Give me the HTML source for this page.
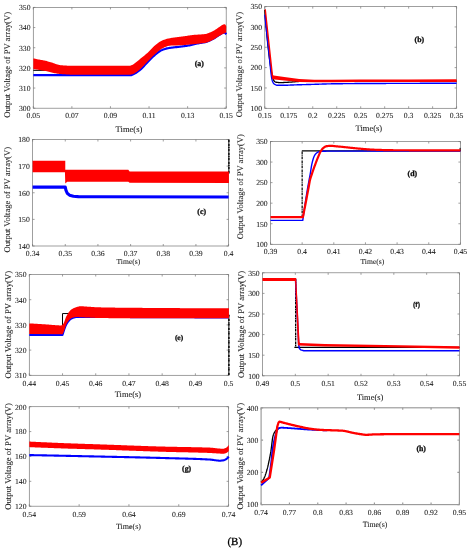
<!DOCTYPE html><html><head><meta charset="utf-8"><title>Figure B</title><style>html,body{margin:0;padding:0;background:#fff}svg{display:block}</style></head><body><svg width="470" height="550" viewBox="0 0 470 550">
<style>text{text-rendering:geometricPrecision;font-family:"Liberation Serif",serif;fill:#1c1c1c;stroke:#1c1c1c;stroke-width:0.08px}.g{font-weight:bold;fill:#0a0a0a;stroke:#0a0a0a;stroke-width:0.3px}.s{font-family:"Liberation Sans",sans-serif;font-weight:bold;fill:#111;stroke:#111;stroke-width:0.2px}</style>
<rect width="470" height="550" fill="#fff"/>
<g id="pa">
<rect x="33.30" y="7.40" width="192.90" height="100.80" fill="none" stroke="#777" stroke-width="0.7"/>
<text x="33.30" y="118.30" class="t" font-size="7.7" text-anchor="middle">0.05</text>
<text x="71.88" y="118.30" class="t" font-size="7.7" text-anchor="middle">0.07</text>
<text x="110.46" y="118.30" class="t" font-size="7.7" text-anchor="middle">0.09</text>
<text x="149.04" y="118.30" class="t" font-size="7.7" text-anchor="middle">0.11</text>
<text x="187.62" y="118.30" class="t" font-size="7.7" text-anchor="middle">0.13</text>
<text x="226.20" y="118.30" class="t" font-size="7.7" text-anchor="middle">0.15</text>
<text x="30.50" y="111.05" class="t" font-size="7.7" text-anchor="end">300</text>
<text x="30.50" y="90.89" class="t" font-size="7.7" text-anchor="end">310</text>
<text x="30.50" y="70.73" class="t" font-size="7.7" text-anchor="end">320</text>
<text x="30.50" y="50.57" class="t" font-size="7.7" text-anchor="end">330</text>
<text x="30.50" y="30.41" class="t" font-size="7.7" text-anchor="end">340</text>
<text x="30.50" y="10.25" class="t" font-size="7.7" text-anchor="end">350</text>
<path d="M33.30 108.20v-2.0M33.30 7.40v2.0M71.88 108.20v-2.0M71.88 7.40v2.0M110.46 108.20v-2.0M110.46 7.40v2.0M149.04 108.20v-2.0M149.04 7.40v2.0M187.62 108.20v-2.0M187.62 7.40v2.0M226.20 108.20v-2.0M226.20 7.40v2.0M33.30 108.20h2.0M226.20 108.20h-2.0M33.30 88.04h2.0M226.20 88.04h-2.0M33.30 67.88h2.0M226.20 67.88h-2.0M33.30 47.72h2.0M226.20 47.72h-2.0M33.30 27.56h2.0M226.20 27.56h-2.0M33.30 7.40h2.0M226.20 7.40h-2.0" stroke="#777" stroke-width="0.7" fill="none"/>
<text x="129.00" y="131.80" class="l" font-size="8.55" text-anchor="middle">Time(s)</text>
<text transform="translate(10.30 64.80) rotate(-90)" class="l" font-size="8.6" text-anchor="middle">Output Voltage of PV array(V)</text>
<text x="199.25" y="65.50" class="g" font-size="7.8" text-anchor="middle">(a)</text>
<path d="M33.30 70.30 L56.45 70.30" fill="none" stroke="#000000" stroke-width="1.1" stroke-linejoin="round" stroke-linecap="butt"/>
<path d="M33.30 75.14 L34.27 75.14 L35.24 75.14 L36.21 75.14 L37.18 75.14 L38.15 75.14 L39.12 75.14 L40.09 75.14 L41.05 75.14 L42.02 75.14 L42.99 75.14 L43.96 75.14 L44.93 75.14 L45.90 75.14 L46.87 75.14 L47.84 75.14 L48.81 75.14 L49.78 75.14 L50.75 75.14 L51.72 75.14 L52.69 75.14 L53.66 75.14 L54.63 75.14 L55.59 75.14 L56.56 75.14 L57.53 75.14 L58.50 75.14 L59.47 75.14 L60.44 75.14 L61.41 75.14 L62.38 75.14 L63.35 75.14 L64.32 75.14 L65.29 75.14 L66.26 75.14 L67.23 75.14 L68.20 75.14 L69.17 75.14 L70.14 75.14 L71.10 75.14 L72.07 75.14 L73.04 75.14 L74.01 75.14 L74.98 75.14 L75.95 75.14 L76.92 75.14 L77.89 75.14 L78.86 75.14 L79.83 75.14 L80.80 75.14 L81.77 75.14 L82.74 75.14 L83.71 75.14 L84.68 75.14 L85.64 75.14 L86.61 75.14 L87.58 75.14 L88.55 75.14 L89.52 75.14 L90.49 75.14 L91.46 75.14 L92.43 75.14 L93.40 75.14 L94.37 75.14 L95.34 75.14 L96.31 75.14 L97.28 75.14 L98.25 75.14 L99.22 75.14 L100.18 75.14 L101.15 75.14 L102.12 75.14 L103.09 75.14 L104.06 75.14 L105.03 75.14 L106.00 75.14 L106.97 75.14 L107.94 75.14 L108.91 75.14 L109.88 75.14 L110.85 75.14 L111.82 75.14 L112.79 75.14 L113.76 75.14 L114.73 75.14 L115.69 75.14 L116.66 75.14 L117.63 75.14 L118.60 75.14 L119.57 75.14 L120.54 75.14 L121.51 75.14 L122.48 75.14 L123.45 75.14 L124.42 75.14 L125.39 75.14 L126.36 75.14 L127.33 75.14 L128.30 75.14 L129.27 75.14 L130.23 75.14 L130.71 75.14 L131.20 75.09 L132.17 74.79 L133.14 74.31 L134.11 73.77 L134.57 73.52 L135.08 73.26 L136.05 72.71 L137.02 72.10 L137.99 71.44 L138.96 70.73 L139.78 70.10 L139.93 69.98 L140.90 69.14 L141.87 68.21 L142.84 67.22 L143.81 66.18 L144.77 65.12 L145.74 64.06 L146.71 63.04 L147.11 62.64 L147.68 62.06 L148.65 61.05 L149.62 60.04 L150.59 59.03 L151.56 58.03 L152.53 57.07 L153.50 56.16 L154.47 55.32 L154.63 55.18 L155.44 54.52 L156.41 53.72 L157.38 52.94 L158.35 52.19 L159.32 51.50 L160.28 50.87 L161.25 50.34 L162.16 49.94 L162.22 49.91 L163.19 49.56 L164.16 49.23 L165.13 48.94 L166.10 48.68 L167.07 48.44 L168.04 48.23 L169.01 48.04 L169.68 47.92 L169.98 47.87 L170.95 47.73 L171.92 47.59 L172.89 47.48 L173.86 47.37 L174.82 47.27 L175.79 47.17 L176.76 47.07 L177.73 46.97 L178.70 46.86 L179.67 46.74 L179.90 46.71 L180.64 46.62 L181.61 46.49 L182.58 46.36 L183.55 46.23 L184.52 46.10 L185.49 45.96 L186.46 45.81 L187.43 45.66 L188.40 45.50 L189.36 45.33 L189.55 45.30 L190.33 45.15 L191.30 44.93 L192.27 44.70 L193.24 44.46 L194.21 44.21 L195.18 43.96 L196.15 43.73 L197.12 43.52 L197.26 43.49 L198.09 43.33 L199.06 43.16 L200.03 43.01 L201.00 42.86 L201.97 42.71 L202.94 42.54 L203.91 42.36 L204.87 42.15 L205.17 42.08 L205.84 41.90 L206.81 41.60 L207.78 41.25 L208.75 40.87 L209.72 40.45 L210.69 40.02 L211.66 39.56 L212.63 39.08 L212.70 39.05 L213.60 38.57 L214.57 37.97 L215.54 37.32 L216.51 36.65 L217.48 35.98 L218.45 35.33 L219.41 34.74 L220.03 34.41 L220.38 34.23 L221.35 33.67 L222.32 33.12 L223.29 32.68 L224.26 32.42 L224.66 32.40 L225.23 32.79 L226.20 34.41" fill="none" stroke="#0000ff" stroke-width="2.2" stroke-linejoin="round" stroke-linecap="butt"/>
<path d="M33.30 58.40 L34.27 58.62 L35.24 58.83 L36.21 59.04 L37.18 59.24 L38.15 59.43 L39.09 59.61 L39.12 59.62 L40.09 59.79 L41.05 59.95 L42.02 60.11 L42.99 60.27 L43.96 60.44 L44.87 60.62 L44.93 60.63 L45.90 60.86 L46.87 61.11 L47.84 61.38 L48.81 61.67 L49.78 61.97 L50.75 62.27 L51.72 62.58 L52.59 62.84 L52.69 62.87 L53.66 63.19 L54.63 63.54 L55.59 63.90 L56.56 64.25 L57.53 64.57 L58.50 64.84 L59.47 65.02 L59.73 65.06 L60.44 65.14 L61.41 65.24 L62.38 65.33 L63.35 65.40 L64.32 65.47 L65.29 65.53 L66.26 65.58 L67.23 65.63 L68.02 65.66 L68.20 65.67 L69.17 65.71 L70.14 65.75 L71.10 65.79 L72.07 65.82 L73.04 65.84 L74.01 65.86 L74.77 65.86 L74.98 65.86 L75.95 65.86 L76.92 65.86 L77.89 65.86 L78.86 65.86 L79.83 65.86 L80.80 65.86 L81.77 65.86 L82.74 65.86 L83.71 65.86 L84.68 65.86 L85.64 65.86 L86.61 65.86 L87.58 65.86 L88.55 65.86 L89.52 65.86 L90.49 65.86 L91.46 65.86 L92.43 65.86 L93.40 65.86 L94.37 65.86 L95.34 65.86 L96.31 65.86 L97.28 65.86 L98.25 65.86 L99.22 65.86 L100.18 65.86 L101.15 65.86 L102.12 65.86 L103.09 65.86 L104.06 65.86 L105.03 65.86 L106.00 65.86 L106.97 65.86 L107.94 65.86 L108.91 65.86 L109.88 65.86 L110.85 65.86 L111.82 65.86 L112.79 65.86 L113.76 65.86 L114.73 65.86 L115.69 65.86 L116.66 65.86 L117.63 65.86 L118.60 65.86 L119.57 65.86 L120.54 65.86 L121.51 65.86 L122.48 65.86 L123.45 65.86 L124.42 65.86 L125.39 65.86 L126.36 65.86 L127.33 65.86 L128.30 65.86 L129.27 65.86 L129.36 65.86 L130.23 65.73 L131.20 65.37 L132.17 64.89 L132.64 64.65 L133.14 64.40 L134.11 63.81 L135.08 63.11 L136.05 62.35 L137.02 61.53 L137.99 60.70 L138.96 59.88 L139.78 59.21 L139.93 59.09 L140.90 58.33 L141.87 57.56 L142.84 56.78 L143.81 55.99 L144.77 55.19 L145.74 54.37 L146.71 53.52 L147.11 53.16 L147.68 52.63 L148.65 51.68 L149.62 50.68 L150.59 49.65 L151.56 48.63 L152.53 47.64 L153.50 46.70 L154.47 45.84 L154.63 45.70 L155.44 45.04 L156.41 44.25 L157.38 43.48 L158.35 42.74 L159.32 42.05 L160.28 41.43 L161.25 40.88 L162.16 40.46 L162.22 40.44 L163.19 40.05 L164.16 39.70 L165.13 39.38 L166.10 39.09 L167.07 38.83 L168.04 38.59 L169.01 38.38 L169.68 38.24 L169.98 38.19 L170.95 38.02 L171.92 37.86 L172.89 37.72 L173.86 37.59 L174.82 37.47 L175.79 37.35 L176.76 37.23 L177.73 37.11 L178.70 36.99 L179.67 36.87 L179.90 36.83 L180.64 36.73 L181.61 36.59 L182.58 36.45 L183.55 36.31 L184.52 36.17 L185.49 36.02 L186.46 35.88 L187.43 35.74 L188.40 35.60 L189.36 35.46 L190.33 35.33 L191.30 35.21 L192.27 35.09 L193.24 34.98 L194.21 34.87 L194.76 34.82 L195.18 34.78 L196.15 34.70 L197.12 34.63 L198.09 34.57 L199.06 34.51 L200.03 34.46 L201.00 34.40 L201.97 34.33 L202.94 34.25 L203.91 34.16 L204.87 34.05 L205.17 34.01 L205.84 33.90 L206.81 33.67 L207.78 33.36 L208.75 32.99 L209.72 32.58 L210.69 32.14 L211.66 31.68 L212.63 31.22 L212.70 31.19 L213.60 30.73 L214.57 30.17 L215.54 29.56 L216.51 28.91 L217.48 28.25 L218.45 27.59 L219.41 26.94 L220.03 26.55 L220.38 26.32 L221.35 25.61 L222.32 24.95 L223.29 24.54 L223.31 24.54 L224.26 24.36 L224.66 24.33 L225.23 24.61 L226.20 25.95 L226.20 32.40 L225.23 32.91 L224.66 33.20 L224.26 33.40 L223.29 33.86 L222.32 34.30 L221.35 34.75 L220.38 35.23 L220.03 35.42 L219.41 35.77 L218.45 36.38 L217.48 37.03 L216.51 37.70 L215.54 38.37 L214.57 39.01 L213.60 39.59 L212.70 40.06 L212.63 40.09 L211.66 40.55 L210.69 40.99 L209.72 41.42 L208.75 41.81 L207.78 42.17 L206.81 42.49 L205.84 42.74 L205.17 42.88 L204.87 42.94 L203.91 43.10 L202.94 43.24 L201.97 43.37 L201.00 43.49 L200.03 43.59 L199.06 43.69 L198.09 43.78 L197.12 43.87 L196.15 43.96 L195.18 44.05 L194.76 44.09 L194.21 44.14 L193.24 44.24 L192.27 44.33 L191.30 44.42 L190.33 44.51 L189.36 44.60 L188.40 44.69 L187.43 44.77 L186.46 44.85 L185.49 44.93 L184.52 45.00 L183.55 45.08 L182.58 45.14 L181.61 45.20 L180.64 45.26 L179.90 45.30 L179.67 45.31 L178.70 45.36 L177.73 45.39 L176.76 45.42 L175.79 45.45 L174.82 45.47 L173.86 45.50 L172.89 45.53 L171.92 45.57 L170.95 45.62 L169.98 45.68 L169.68 45.70 L169.01 45.78 L168.04 45.98 L167.07 46.27 L166.10 46.63 L165.13 47.05 L164.16 47.51 L163.19 48.00 L162.22 48.49 L162.16 48.53 L161.25 49.04 L160.28 49.69 L159.32 50.43 L158.35 51.24 L157.38 52.09 L156.41 52.97 L155.44 53.85 L154.63 54.57 L154.47 54.72 L153.50 55.61 L152.53 56.54 L151.56 57.50 L150.59 58.48 L149.62 59.47 L148.65 60.47 L147.68 61.46 L147.11 62.03 L146.71 62.44 L145.74 63.46 L144.77 64.51 L143.81 65.57 L142.84 66.61 L141.87 67.61 L140.90 68.54 L139.93 69.37 L139.78 69.49 L138.96 70.15 L137.99 70.92 L137.02 71.67 L136.05 72.37 L135.08 73.00 L134.11 73.54 L133.14 73.96 L132.64 74.13 L132.17 74.27 L131.20 74.54 L130.23 74.71 L129.75 74.73 L129.27 74.73 L128.30 74.73 L127.33 74.73 L126.36 74.73 L125.39 74.73 L124.42 74.73 L123.45 74.73 L122.48 74.73 L121.51 74.73 L120.54 74.73 L119.57 74.73 L118.60 74.73 L117.63 74.73 L116.66 74.73 L115.69 74.73 L114.73 74.73 L113.76 74.73 L112.79 74.73 L111.82 74.73 L110.85 74.73 L109.88 74.73 L108.91 74.73 L107.94 74.73 L106.97 74.73 L106.00 74.73 L105.03 74.73 L104.06 74.73 L103.09 74.73 L102.12 74.73 L101.15 74.73 L100.18 74.73 L99.22 74.73 L98.25 74.73 L97.28 74.73 L96.31 74.73 L95.34 74.73 L94.37 74.73 L93.40 74.73 L92.43 74.73 L91.46 74.73 L90.49 74.73 L89.52 74.73 L88.55 74.73 L87.58 74.73 L86.61 74.73 L85.64 74.73 L84.68 74.73 L83.71 74.73 L82.74 74.73 L81.77 74.73 L80.80 74.73 L79.83 74.73 L78.86 74.73 L77.89 74.73 L76.92 74.73 L75.95 74.73 L74.98 74.73 L74.77 74.73 L74.01 74.73 L73.04 74.72 L72.07 74.70 L71.10 74.67 L70.14 74.64 L69.17 74.60 L68.20 74.55 L67.23 74.49 L66.26 74.43 L65.29 74.37 L64.32 74.30 L63.35 74.23 L62.38 74.15 L61.41 74.07 L60.44 73.99 L59.73 73.93 L59.47 73.90 L58.50 73.79 L57.53 73.66 L56.56 73.49 L55.59 73.32 L54.63 73.13 L53.66 72.93 L52.69 72.74 L52.59 72.72 L51.72 72.54 L50.75 72.31 L49.78 72.07 L48.81 71.83 L47.84 71.58 L46.87 71.34 L45.90 71.12 L44.93 70.92 L44.87 70.90 L43.96 70.73 L42.99 70.55 L42.02 70.38 L41.05 70.21 L40.09 70.04 L39.12 69.88 L38.15 69.73 L37.18 69.59 L36.21 69.45 L35.24 69.32 L34.27 69.20 L33.30 69.09Z" fill="#ff0000" stroke="none"/>
</g>
<g id="pb">
<rect x="264.80" y="6.60" width="191.80" height="101.70" fill="none" stroke="#777" stroke-width="0.7"/>
<text x="264.80" y="118.40" class="t" font-size="7.7" text-anchor="middle">0.15</text>
<text x="288.78" y="118.40" class="t" font-size="7.7" text-anchor="middle">0.175</text>
<text x="312.75" y="118.40" class="t" font-size="7.7" text-anchor="middle">0.2</text>
<text x="336.73" y="118.40" class="t" font-size="7.7" text-anchor="middle">0.225</text>
<text x="360.70" y="118.40" class="t" font-size="7.7" text-anchor="middle">0.25</text>
<text x="384.68" y="118.40" class="t" font-size="7.7" text-anchor="middle">0.275</text>
<text x="408.65" y="118.40" class="t" font-size="7.7" text-anchor="middle">0.3</text>
<text x="432.62" y="118.40" class="t" font-size="7.7" text-anchor="middle">0.325</text>
<text x="456.60" y="118.40" class="t" font-size="7.7" text-anchor="middle">0.35</text>
<text x="262.00" y="111.15" class="t" font-size="7.7" text-anchor="end">100</text>
<text x="262.00" y="90.81" class="t" font-size="7.7" text-anchor="end">150</text>
<text x="262.00" y="70.47" class="t" font-size="7.7" text-anchor="end">200</text>
<text x="262.00" y="50.13" class="t" font-size="7.7" text-anchor="end">250</text>
<text x="262.00" y="29.79" class="t" font-size="7.7" text-anchor="end">300</text>
<text x="262.00" y="9.45" class="t" font-size="7.7" text-anchor="end">350</text>
<path d="M264.80 108.30v-2.0M264.80 6.60v2.0M288.78 108.30v-2.0M288.78 6.60v2.0M312.75 108.30v-2.0M312.75 6.60v2.0M336.73 108.30v-2.0M336.73 6.60v2.0M360.70 108.30v-2.0M360.70 6.60v2.0M384.68 108.30v-2.0M384.68 6.60v2.0M408.65 108.30v-2.0M408.65 6.60v2.0M432.62 108.30v-2.0M432.62 6.60v2.0M456.60 108.30v-2.0M456.60 6.60v2.0M264.80 108.30h2.0M456.60 108.30h-2.0M264.80 87.96h2.0M456.60 87.96h-2.0M264.80 67.62h2.0M456.60 67.62h-2.0M264.80 47.28h2.0M456.60 47.28h-2.0M264.80 26.94h2.0M456.60 26.94h-2.0M264.80 6.60h2.0M456.60 6.60h-2.0" stroke="#777" stroke-width="0.7" fill="none"/>
<text x="368.90" y="130.50" class="l" font-size="8.5" text-anchor="middle">Time(s)</text>
<text transform="translate(242.00 64.50) rotate(-90)" class="l" font-size="8.55" text-anchor="middle">Output Voltage of PV array(V)</text>
<text x="419.35" y="42.20" class="g" font-size="7.8" text-anchor="middle">(b)</text>
<path d="M264.80 9.85 L265.28 16.14 L265.76 22.12 L266.24 27.81 L266.72 33.20 L267.20 38.31 L267.68 43.14 L268.16 47.69 L268.65 51.96 L269.13 55.96 L269.61 59.69 L270.09 63.16 L270.57 66.37 L271.05 69.33 L271.53 72.03 L272.01 74.49 L272.28 75.76 L272.49 76.70 L272.97 78.60 L273.43 79.82 L273.45 79.86 L273.93 80.67 L274.41 81.32 L274.89 81.79 L275.35 82.02 L275.38 82.03 L275.86 82.14 L276.34 82.24 L276.82 82.33 L277.30 82.41 L277.78 82.47 L278.26 82.52 L278.74 82.56 L279.22 82.58 L279.70 82.59 L279.86 82.59 L280.18 82.59 L280.66 82.59 L281.14 82.58 L281.62 82.57 L282.11 82.56 L282.59 82.54 L283.07 82.53 L283.55 82.51 L284.03 82.49 L284.51 82.47 L284.99 82.44 L285.47 82.42 L285.95 82.39 L286.43 82.36 L286.91 82.33 L287.39 82.30 L287.87 82.27 L288.35 82.24 L288.84 82.21 L289.32 82.18 L289.80 82.15 L290.28 82.12 L290.76 82.09 L291.24 82.06 L291.72 82.03 L291.84 82.02 L292.20 82.00 L292.68 81.96 L293.16 81.93 L293.64 81.88 L294.12 81.84 L294.60 81.80 L295.08 81.75 L295.56 81.71 L296.05 81.66 L296.53 81.62 L297.01 81.58 L297.49 81.55 L297.97 81.51 L298.45 81.49 L298.93 81.46 L299.32 81.45 L299.41 81.45 L299.89 81.44 L300.37 81.42 L300.85 81.41 L301.33 81.40 L301.81 81.39 L302.29 81.38 L302.78 81.37 L303.26 81.36 L303.74 81.35 L304.22 81.34 L304.70 81.33 L305.18 81.32 L305.66 81.32 L306.14 81.31 L306.62 81.30 L307.10 81.29 L307.58 81.29 L308.06 81.28 L308.54 81.28 L309.02 81.27 L309.51 81.27 L309.99 81.26 L310.47 81.26 L310.95 81.26 L311.43 81.25 L311.91 81.25 L312.39 81.25 L312.75 81.25 L312.87 81.25 L313.35 81.25 L313.83 81.24 L314.31 81.24 L314.79 81.24 L315.27 81.24 L315.75 81.24 L316.24 81.24 L316.72 81.23 L317.20 81.23 L317.68 81.23 L318.16 81.23 L318.64 81.23 L319.12 81.23 L319.60 81.23 L320.08 81.22 L320.56 81.22 L321.04 81.22 L321.52 81.22 L322.00 81.22 L322.48 81.22 L322.96 81.22 L323.45 81.21 L323.93 81.21 L324.41 81.21 L324.89 81.21 L325.37 81.21 L325.85 81.21 L326.33 81.21 L326.81 81.20 L327.29 81.20 L327.77 81.20 L328.25 81.20 L328.73 81.20 L329.21 81.20 L329.69 81.20 L330.18 81.19 L330.66 81.19 L331.14 81.19 L331.62 81.19 L332.10 81.19 L332.58 81.19 L333.06 81.19 L333.54 81.19 L334.02 81.18 L334.50 81.18 L334.98 81.18 L335.46 81.18 L335.94 81.18 L336.42 81.18 L336.91 81.18 L337.39 81.18 L337.87 81.17 L338.35 81.17 L338.83 81.17 L339.31 81.17 L339.79 81.17 L340.27 81.17 L340.75 81.17 L341.23 81.17 L341.71 81.16 L342.19 81.16 L342.67 81.16 L343.15 81.16 L343.64 81.16 L344.12 81.16 L344.60 81.16 L345.08 81.16 L345.56 81.16 L346.04 81.15 L346.52 81.15 L347.00 81.15 L347.48 81.15 L347.96 81.15 L348.44 81.15 L348.92 81.15 L349.40 81.15 L349.88 81.15 L350.36 81.14 L350.85 81.14 L351.33 81.14 L351.81 81.14 L352.29 81.14 L352.77 81.14 L353.25 81.14 L353.73 81.14 L354.21 81.14 L354.69 81.14 L355.17 81.13 L355.65 81.13 L356.13 81.13 L356.61 81.13 L357.09 81.13 L357.58 81.13 L358.06 81.13 L358.54 81.13 L359.02 81.13 L359.50 81.13 L359.98 81.12 L360.46 81.12 L360.94 81.12 L361.42 81.12 L361.90 81.12 L362.38 81.12 L362.86 81.12 L363.34 81.12 L363.82 81.12 L364.31 81.12 L364.79 81.12 L365.27 81.12 L365.75 81.11 L366.23 81.11 L366.71 81.11 L367.19 81.11 L367.67 81.11 L368.15 81.11 L368.63 81.11 L369.11 81.11 L369.59 81.11 L370.07 81.11 L370.55 81.11 L371.04 81.11 L371.52 81.10 L372.00 81.10 L372.48 81.10 L372.96 81.10 L373.44 81.10 L373.92 81.10 L374.40 81.10 L374.88 81.10 L375.36 81.10 L375.84 81.10 L376.32 81.10 L376.80 81.10 L377.28 81.10 L377.76 81.10 L378.25 81.09 L378.73 81.09 L379.21 81.09 L379.69 81.09 L380.17 81.09 L380.65 81.09 L381.13 81.09 L381.61 81.09 L382.09 81.09 L382.57 81.09 L383.05 81.09 L383.53 81.09 L384.01 81.09 L384.49 81.09 L384.98 81.09 L385.46 81.08 L385.94 81.08 L386.42 81.08 L386.90 81.08 L387.38 81.08 L387.86 81.08 L388.34 81.08 L388.82 81.08 L389.30 81.08 L389.78 81.08 L390.26 81.08 L390.74 81.08 L391.22 81.08 L391.71 81.08 L392.19 81.08 L392.67 81.08 L393.15 81.08 L393.63 81.08 L394.11 81.07 L394.59 81.07 L395.07 81.07 L395.55 81.07 L396.03 81.07 L396.51 81.07 L396.99 81.07 L397.47 81.07 L397.95 81.07 L398.44 81.07 L398.92 81.07 L399.40 81.07 L399.88 81.07 L400.36 81.07 L400.84 81.07 L401.32 81.07 L401.80 81.07 L402.28 81.07 L402.76 81.07 L403.24 81.07 L403.72 81.07 L404.20 81.06 L404.68 81.06 L405.16 81.06 L405.65 81.06 L406.13 81.06 L406.61 81.06 L407.09 81.06 L407.57 81.06 L408.05 81.06 L408.53 81.06 L409.01 81.06 L409.49 81.06 L409.97 81.06 L410.45 81.06 L410.93 81.06 L411.41 81.06 L411.89 81.06 L412.38 81.06 L412.86 81.06 L413.34 81.06 L413.82 81.06 L414.30 81.06 L414.78 81.06 L415.26 81.06 L415.74 81.06 L416.22 81.06 L416.70 81.06 L417.18 81.06 L417.66 81.06 L418.14 81.05 L418.62 81.05 L419.11 81.05 L419.59 81.05 L420.07 81.05 L420.55 81.05 L421.03 81.05 L421.51 81.05 L421.99 81.05 L422.47 81.05 L422.95 81.05 L423.43 81.05 L423.91 81.05 L424.39 81.05 L424.87 81.05 L425.35 81.05 L425.84 81.05 L426.32 81.05 L426.80 81.05 L427.28 81.05 L427.76 81.05 L428.24 81.05 L428.72 81.05 L429.20 81.05 L429.68 81.05 L430.16 81.05 L430.64 81.05 L431.12 81.05 L431.60 81.05 L432.08 81.05 L432.56 81.05 L433.05 81.05 L433.53 81.05 L434.01 81.05 L434.49 81.05 L434.97 81.05 L435.45 81.05 L435.93 81.05 L436.41 81.05 L436.89 81.05 L437.37 81.05 L437.85 81.05 L438.33 81.05 L438.81 81.05 L439.29 81.05 L439.78 81.05 L440.26 81.05 L440.74 81.05 L441.22 81.05 L441.70 81.05 L442.18 81.05 L442.66 81.05 L443.14 81.05 L443.62 81.05 L444.10 81.05 L444.58 81.05 L445.06 81.05 L445.54 81.05 L446.02 81.05 L446.51 81.05 L446.99 81.04 L447.47 81.04 L447.95 81.04 L448.43 81.04 L448.91 81.04 L449.39 81.04 L449.87 81.04 L450.35 81.04 L450.83 81.04 L451.31 81.04 L451.79 81.04 L452.27 81.04 L452.75 81.04 L453.24 81.04 L453.72 81.04 L454.20 81.04 L454.68 81.04 L455.16 81.04 L455.64 81.04 L456.12 81.04 L456.60 81.04" fill="none" stroke="#000000" stroke-width="1.3" stroke-linejoin="round" stroke-linecap="butt"/>
<path d="M264.80 14.74 L265.28 19.25 L265.76 23.76 L266.24 28.24 L266.43 29.99 L266.72 32.70 L267.20 37.11 L267.68 41.50 L268.16 45.89 L268.65 50.29 L269.13 54.73 L269.61 59.22 L269.69 60.01 L270.09 64.03 L270.57 69.14 L271.05 73.72 L271.32 75.76 L271.53 77.08 L272.01 79.65 L272.28 80.64 L272.49 81.22 L272.97 82.34 L273.45 83.18 L273.91 83.69 L273.93 83.71 L274.41 84.07 L274.89 84.39 L275.38 84.68 L275.86 84.92 L276.34 85.10 L276.82 85.24 L277.30 85.31 L277.55 85.32 L277.78 85.32 L278.26 85.32 L278.74 85.32 L279.22 85.32 L279.70 85.32 L280.18 85.32 L280.66 85.32 L281.14 85.32 L281.62 85.32 L282.11 85.32 L282.59 85.32 L283.07 85.32 L283.55 85.32 L283.98 85.32 L284.03 85.32 L284.51 85.31 L284.99 85.31 L285.47 85.29 L285.95 85.28 L286.43 85.26 L286.91 85.24 L287.39 85.21 L287.87 85.19 L288.35 85.16 L288.84 85.14 L289.32 85.11 L289.80 85.08 L290.28 85.06 L290.76 85.04 L291.24 85.01 L291.72 84.99 L291.84 84.99 L292.20 84.98 L292.68 84.96 L293.16 84.95 L293.64 84.93 L294.12 84.91 L294.60 84.90 L295.08 84.88 L295.56 84.87 L296.05 84.85 L296.53 84.84 L297.01 84.82 L297.49 84.81 L297.97 84.79 L298.45 84.78 L298.93 84.77 L299.41 84.75 L299.89 84.74 L300.37 84.72 L300.85 84.71 L301.33 84.70 L301.81 84.68 L302.29 84.67 L302.78 84.66 L303.26 84.64 L303.74 84.63 L304.22 84.62 L304.70 84.60 L305.18 84.59 L305.66 84.58 L306.14 84.57 L306.62 84.55 L307.10 84.54 L307.58 84.53 L308.06 84.51 L308.54 84.50 L309.02 84.49 L309.51 84.47 L309.99 84.46 L310.47 84.45 L310.95 84.43 L311.43 84.42 L311.91 84.40 L312.39 84.39 L312.75 84.38 L312.87 84.38 L313.35 84.36 L313.83 84.35 L314.31 84.33 L314.79 84.32 L315.27 84.30 L315.75 84.29 L316.24 84.27 L316.72 84.25 L317.20 84.24 L317.68 84.22 L318.16 84.20 L318.64 84.19 L319.12 84.17 L319.60 84.15 L320.08 84.14 L320.56 84.12 L321.04 84.10 L321.52 84.09 L322.00 84.07 L322.48 84.05 L322.96 84.04 L323.45 84.02 L323.93 84.01 L324.41 83.99 L324.89 83.98 L325.37 83.96 L325.85 83.95 L326.33 83.93 L326.81 83.92 L327.29 83.91 L327.77 83.89 L328.25 83.88 L328.73 83.87 L329.21 83.86 L329.69 83.85 L330.18 83.84 L330.66 83.83 L331.14 83.82 L331.62 83.82 L331.93 83.81 L332.10 83.81 L332.58 83.80 L333.06 83.79 L333.54 83.79 L334.02 83.78 L334.50 83.78 L334.98 83.77 L335.46 83.76 L335.94 83.76 L336.42 83.75 L336.91 83.74 L337.39 83.74 L337.87 83.73 L338.35 83.73 L338.83 83.72 L339.31 83.72 L339.79 83.71 L340.27 83.70 L340.75 83.70 L341.23 83.69 L341.71 83.69 L342.19 83.68 L342.67 83.68 L343.15 83.67 L343.64 83.67 L344.12 83.66 L344.60 83.66 L345.08 83.65 L345.56 83.65 L346.04 83.64 L346.52 83.64 L347.00 83.64 L347.48 83.63 L347.96 83.63 L348.44 83.62 L348.92 83.62 L349.40 83.61 L349.88 83.61 L350.36 83.61 L350.85 83.60 L351.33 83.60 L351.81 83.59 L352.29 83.59 L352.77 83.59 L353.25 83.58 L353.73 83.58 L354.21 83.58 L354.69 83.57 L355.17 83.57 L355.65 83.56 L356.13 83.56 L356.61 83.56 L357.09 83.55 L357.58 83.55 L358.06 83.55 L358.54 83.55 L359.02 83.54 L359.50 83.54 L359.98 83.54 L360.46 83.53 L360.94 83.53 L361.42 83.53 L361.90 83.53 L362.38 83.52 L362.86 83.52 L363.34 83.52 L363.82 83.51 L364.31 83.51 L364.79 83.51 L365.27 83.51 L365.75 83.51 L366.23 83.50 L366.71 83.50 L367.19 83.50 L367.67 83.50 L368.15 83.49 L368.63 83.49 L369.11 83.49 L369.59 83.49 L370.07 83.49 L370.29 83.49 L370.55 83.48 L371.04 83.48 L371.52 83.48 L372.00 83.48 L372.48 83.48 L372.96 83.47 L373.44 83.47 L373.92 83.47 L374.40 83.47 L374.88 83.47 L375.36 83.47 L375.84 83.46 L376.32 83.46 L376.80 83.46 L377.28 83.46 L377.76 83.46 L378.25 83.45 L378.73 83.45 L379.21 83.45 L379.69 83.45 L380.17 83.45 L380.65 83.45 L381.13 83.44 L381.61 83.44 L382.09 83.44 L382.57 83.44 L383.05 83.44 L383.53 83.43 L384.01 83.43 L384.49 83.43 L384.98 83.43 L385.46 83.43 L385.94 83.43 L386.42 83.42 L386.90 83.42 L387.38 83.42 L387.86 83.42 L388.34 83.42 L388.82 83.42 L389.30 83.41 L389.78 83.41 L390.26 83.41 L390.74 83.41 L391.22 83.41 L391.71 83.41 L392.19 83.40 L392.67 83.40 L393.15 83.40 L393.63 83.40 L394.11 83.40 L394.59 83.40 L395.07 83.39 L395.55 83.39 L396.03 83.39 L396.51 83.39 L396.99 83.39 L397.47 83.39 L397.95 83.39 L398.44 83.38 L398.92 83.38 L399.40 83.38 L399.88 83.38 L400.36 83.38 L400.84 83.38 L401.32 83.37 L401.80 83.37 L402.28 83.37 L402.76 83.37 L403.24 83.37 L403.72 83.37 L404.20 83.37 L404.68 83.36 L405.16 83.36 L405.65 83.36 L406.13 83.36 L406.61 83.36 L407.09 83.36 L407.57 83.36 L408.05 83.35 L408.53 83.35 L409.01 83.35 L409.49 83.35 L409.97 83.35 L410.45 83.35 L410.93 83.35 L411.41 83.35 L411.89 83.34 L412.38 83.34 L412.86 83.34 L413.34 83.34 L413.82 83.34 L414.30 83.34 L414.78 83.34 L415.26 83.34 L415.74 83.33 L416.22 83.33 L416.70 83.33 L417.18 83.33 L417.66 83.33 L418.14 83.33 L418.62 83.33 L419.11 83.33 L419.59 83.33 L420.07 83.32 L420.55 83.32 L421.03 83.32 L421.51 83.32 L421.99 83.32 L422.47 83.32 L422.95 83.32 L423.43 83.32 L423.91 83.32 L424.39 83.32 L424.87 83.31 L425.35 83.31 L425.84 83.31 L426.32 83.31 L426.80 83.31 L427.28 83.31 L427.76 83.31 L428.24 83.31 L428.72 83.31 L429.20 83.31 L429.68 83.31 L430.16 83.31 L430.64 83.30 L431.12 83.30 L431.60 83.30 L432.08 83.30 L432.56 83.30 L433.05 83.30 L433.53 83.30 L434.01 83.30 L434.49 83.30 L434.97 83.30 L435.45 83.30 L435.93 83.30 L436.41 83.30 L436.89 83.29 L437.37 83.29 L437.85 83.29 L438.33 83.29 L438.81 83.29 L439.29 83.29 L439.78 83.29 L440.26 83.29 L440.74 83.29 L441.22 83.29 L441.70 83.29 L442.18 83.29 L442.66 83.29 L443.14 83.29 L443.62 83.29 L444.10 83.29 L444.58 83.29 L445.06 83.29 L445.54 83.29 L446.02 83.29 L446.51 83.29 L446.99 83.29 L447.47 83.28 L447.95 83.28 L448.43 83.28 L448.91 83.28 L449.39 83.28 L449.87 83.28 L450.35 83.28 L450.83 83.28 L451.31 83.28 L451.79 83.28 L452.27 83.28 L452.75 83.28 L453.24 83.28 L453.72 83.28 L454.20 83.28 L454.68 83.28 L455.16 83.28 L455.64 83.28 L456.12 83.28 L456.60 83.28" fill="none" stroke="#0000ff" stroke-width="1.4" stroke-linejoin="round" stroke-linecap="butt"/>
<path d="M264.80 9.04 L265.95 9.45 L273.05 74.94 L273.62 75.59 L284.27 77.10 L299.23 79.09 L314.09 79.82 L331.93 79.70 L360.70 79.62 L408.65 79.42 L456.60 79.21 L456.60 82.06 L408.65 82.06 L360.70 82.06 L331.93 82.14 L314.09 82.31 L299.23 82.02 L284.27 80.60 L272.28 79.21 L271.70 76.57 L264.80 11.07Z" fill="#ff0000" stroke="none"/>
</g>
<g id="pc">
<rect x="32.60" y="139.50" width="196.00" height="106.50" fill="none" stroke="#777" stroke-width="0.7"/>
<text x="32.60" y="255.90" class="t" font-size="7.7" text-anchor="middle">0.34</text>
<text x="65.27" y="255.90" class="t" font-size="7.7" text-anchor="middle">0.35</text>
<text x="97.93" y="255.90" class="t" font-size="7.7" text-anchor="middle">0.36</text>
<text x="130.60" y="255.90" class="t" font-size="7.7" text-anchor="middle">0.37</text>
<text x="163.27" y="255.90" class="t" font-size="7.7" text-anchor="middle">0.38</text>
<text x="195.93" y="255.90" class="t" font-size="7.7" text-anchor="middle">0.39</text>
<text x="228.60" y="255.90" class="t" font-size="7.7" text-anchor="middle">0.4</text>
<text x="29.80" y="248.85" class="t" font-size="7.7" text-anchor="end">140</text>
<text x="29.80" y="222.22" class="t" font-size="7.7" text-anchor="end">150</text>
<text x="29.80" y="195.60" class="t" font-size="7.7" text-anchor="end">160</text>
<text x="29.80" y="168.97" class="t" font-size="7.7" text-anchor="end">170</text>
<text x="29.80" y="142.35" class="t" font-size="7.7" text-anchor="end">180</text>
<path d="M32.60 246.00v-2.0M32.60 139.50v2.0M65.27 246.00v-2.0M65.27 139.50v2.0M97.93 246.00v-2.0M97.93 139.50v2.0M130.60 246.00v-2.0M130.60 139.50v2.0M163.27 246.00v-2.0M163.27 139.50v2.0M195.93 246.00v-2.0M195.93 139.50v2.0M228.60 246.00v-2.0M228.60 139.50v2.0M32.60 246.00h2.0M228.60 246.00h-2.0M32.60 219.38h2.0M228.60 219.38h-2.0M32.60 192.75h2.0M228.60 192.75h-2.0M32.60 166.12h2.0M228.60 166.12h-2.0M32.60 139.50h2.0M228.60 139.50h-2.0" stroke="#777" stroke-width="0.7" fill="none"/>
<text x="128.40" y="264.00" class="l" font-size="7.6" text-anchor="middle">Time(s)</text>
<text transform="translate(9.90 199.65) rotate(-90)" class="l" font-size="8.57" text-anchor="middle">Output Voltage of PV array(V)</text>
<text x="201.70" y="213.80" class="g" font-size="7.8" text-anchor="middle">(c)</text>
<path d="M228.93 139.50 L228.93 174.11" fill="none" stroke="#000000" stroke-width="1.5" stroke-linejoin="round" stroke-linecap="butt" stroke-dasharray="2.5 0.6 0.8 0.6"/>
<path d="M32.60 187.16 L65.27 187.16 L65.92 190.09 L67.23 193.28 L69.51 195.15 L73.43 196.21 L78.33 196.61 L97.93 196.74 L228.60 197.01" fill="none" stroke="#0000ff" stroke-width="3.1" stroke-linejoin="round" stroke-linecap="butt"/>
<path d="M32.60 160.80 L65.27 160.80 L65.27 169.85 L128.31 169.85 L129.62 171.58 L228.93 171.58 L228.93 182.90 L129.62 182.63 L128.31 181.83 L67.23 181.83 L65.27 183.43 L64.94 172.25 L32.60 172.25Z" fill="#ff0000" stroke="none"/>
</g>
<g id="pd">
<rect x="270.50" y="141.50" width="189.90" height="102.80" fill="none" stroke="#777" stroke-width="0.7"/>
<text x="270.50" y="253.80" class="t" font-size="7.7" text-anchor="middle">0.39</text>
<text x="302.15" y="253.80" class="t" font-size="7.7" text-anchor="middle">0.4</text>
<text x="333.80" y="253.80" class="t" font-size="7.7" text-anchor="middle">0.41</text>
<text x="365.45" y="253.80" class="t" font-size="7.7" text-anchor="middle">0.42</text>
<text x="397.10" y="253.80" class="t" font-size="7.7" text-anchor="middle">0.43</text>
<text x="428.75" y="253.80" class="t" font-size="7.7" text-anchor="middle">0.44</text>
<text x="460.40" y="253.80" class="t" font-size="7.7" text-anchor="middle">0.45</text>
<text x="267.70" y="247.15" class="t" font-size="7.7" text-anchor="end">100</text>
<text x="267.70" y="226.59" class="t" font-size="7.7" text-anchor="end">150</text>
<text x="267.70" y="206.03" class="t" font-size="7.7" text-anchor="end">200</text>
<text x="267.70" y="185.47" class="t" font-size="7.7" text-anchor="end">250</text>
<text x="267.70" y="164.91" class="t" font-size="7.7" text-anchor="end">300</text>
<text x="267.70" y="144.35" class="t" font-size="7.7" text-anchor="end">350</text>
<path d="M270.50 244.30v-2.0M270.50 141.50v2.0M302.15 244.30v-2.0M302.15 141.50v2.0M333.80 244.30v-2.0M333.80 141.50v2.0M365.45 244.30v-2.0M365.45 141.50v2.0M397.10 244.30v-2.0M397.10 141.50v2.0M428.75 244.30v-2.0M428.75 141.50v2.0M460.40 244.30v-2.0M460.40 141.50v2.0M270.50 244.30h2.0M460.40 244.30h-2.0M270.50 223.74h2.0M460.40 223.74h-2.0M270.50 203.18h2.0M460.40 203.18h-2.0M270.50 182.62h2.0M460.40 182.62h-2.0M270.50 162.06h2.0M460.40 162.06h-2.0M270.50 141.50h2.0M460.40 141.50h-2.0" stroke="#777" stroke-width="0.7" fill="none"/>
<text x="372.40" y="264.30" class="l" font-size="7.6" text-anchor="middle">Time(s)</text>
<text transform="translate(243.40 186.65) rotate(-90)" class="l" font-size="8.54" text-anchor="middle">Output Voltage of PV array(V)</text>
<text x="412.35" y="176.20" class="g" font-size="7.8" text-anchor="middle">(d)</text>
<path d="M302.15 217.57 L302.15 150.96" fill="none" stroke="#000000" stroke-width="1.2" stroke-linejoin="round" stroke-linecap="butt" stroke-dasharray="2.5 0.6 0.8 0.6"/>
<path d="M301.83 150.96 L460.40 150.96" fill="none" stroke="#000000" stroke-width="1.2" stroke-linejoin="round" stroke-linecap="butt"/>
<path d="M460.08 150.96 L460.08 147.87" fill="none" stroke="#000000" stroke-width="1.0" stroke-linejoin="round" stroke-linecap="butt"/>
<path d="M270.50 220.41 L302.78 220.41 L302.78 220.41 L303.31 216.46 L303.84 212.64 L304.36 208.93 L304.89 205.33 L305.42 201.83 L305.95 198.42 L306.47 195.11 L307.00 191.87 L307.53 188.71 L307.82 187.02 L308.05 185.65 L308.58 182.81 L309.11 180.01 L309.11 179.99 L309.64 177.19 L310.00 175.22 L310.16 174.28 L310.69 171.03 L311.22 167.71 L311.74 164.70 L312.09 163.09 L312.27 162.33 L312.80 160.27 L313.33 158.46 L313.85 156.96 L314.21 156.18 L314.38 155.86 L314.91 154.96 L315.43 154.20 L315.96 153.59 L316.39 153.22 L316.49 153.15 L317.02 152.78 L317.54 152.45 L318.07 152.16 L318.60 151.92 L319.12 151.73 L319.65 151.60 L319.81 151.57 L320.18 151.52 L320.71 151.46 L321.23 151.40 L321.76 151.34 L322.29 151.30 L322.81 151.26 L323.34 151.23 L323.87 151.21 L324.30 151.20 L324.40 151.20 L324.92 151.19 L325.45 151.19 L325.98 151.18 L326.50 151.17 L327.03 151.16 L327.56 151.16 L328.09 151.15 L328.61 151.15 L329.14 151.14 L329.67 151.14 L330.19 151.14 L330.72 151.13 L331.25 151.13 L331.78 151.13 L332.30 151.13 L332.83 151.12 L333.36 151.12 L333.80 151.12 L333.88 151.12 L334.41 151.12 L334.94 151.12 L335.47 151.12 L335.99 151.12 L336.52 151.12 L337.05 151.12 L337.57 151.12 L338.10 151.12 L338.63 151.11 L339.16 151.11 L339.68 151.11 L340.21 151.11 L340.74 151.11 L341.26 151.11 L341.79 151.11 L342.32 151.11 L342.85 151.11 L343.37 151.11 L343.90 151.11 L344.43 151.11 L344.95 151.11 L345.48 151.10 L346.01 151.10 L346.54 151.10 L347.06 151.10 L347.59 151.10 L348.12 151.10 L348.64 151.10 L349.17 151.10 L349.70 151.10 L350.23 151.10 L350.75 151.10 L351.28 151.10 L351.81 151.10 L352.33 151.10 L352.86 151.09 L353.39 151.09 L353.92 151.09 L354.44 151.09 L354.97 151.09 L355.50 151.09 L356.02 151.09 L356.55 151.09 L357.08 151.09 L357.61 151.09 L358.13 151.09 L358.66 151.09 L359.19 151.09 L359.71 151.09 L360.24 151.09 L360.77 151.09 L361.30 151.09 L361.82 151.08 L362.35 151.08 L362.88 151.08 L363.40 151.08 L363.93 151.08 L364.46 151.08 L364.99 151.08 L365.51 151.08 L366.04 151.08 L366.57 151.08 L367.09 151.08 L367.62 151.08 L368.15 151.08 L368.68 151.08 L369.20 151.08 L369.73 151.08 L370.26 151.08 L370.78 151.08 L371.31 151.07 L371.84 151.07 L372.37 151.07 L372.89 151.07 L373.42 151.07 L373.95 151.07 L374.48 151.07 L375.00 151.07 L375.53 151.07 L376.06 151.07 L376.58 151.07 L377.11 151.07 L377.64 151.07 L378.17 151.07 L378.69 151.07 L379.22 151.07 L379.75 151.07 L380.27 151.07 L380.80 151.07 L381.33 151.07 L381.86 151.07 L382.38 151.07 L382.91 151.07 L383.44 151.06 L383.96 151.06 L384.49 151.06 L385.02 151.06 L385.55 151.06 L386.07 151.06 L386.60 151.06 L387.13 151.06 L387.65 151.06 L388.18 151.06 L388.71 151.06 L389.24 151.06 L389.76 151.06 L390.29 151.06 L390.82 151.06 L391.34 151.06 L391.87 151.06 L392.40 151.06 L392.93 151.06 L393.45 151.06 L393.98 151.06 L394.51 151.06 L395.03 151.06 L395.56 151.06 L396.09 151.06 L396.62 151.06 L397.14 151.06 L397.67 151.06 L398.20 151.05 L398.72 151.05 L399.25 151.05 L399.78 151.05 L400.31 151.05 L400.83 151.05 L401.36 151.05 L401.89 151.05 L402.41 151.05 L402.94 151.05 L403.47 151.05 L404.00 151.05 L404.52 151.05 L405.05 151.05 L405.58 151.05 L406.10 151.05 L406.63 151.05 L407.16 151.05 L407.69 151.05 L408.21 151.05 L408.74 151.05 L409.27 151.05 L409.79 151.05 L410.32 151.05 L410.85 151.05 L411.38 151.05 L411.90 151.05 L412.43 151.05 L412.96 151.05 L413.48 151.05 L414.01 151.05 L414.54 151.05 L415.07 151.05 L415.59 151.05 L416.12 151.05 L416.65 151.05 L417.17 151.05 L417.70 151.05 L418.23 151.05 L418.76 151.05 L419.28 151.05 L419.81 151.05 L420.34 151.05 L420.86 151.05 L421.39 151.05 L421.92 151.04 L422.45 151.04 L422.97 151.04 L423.50 151.04 L424.03 151.04 L424.55 151.04 L425.08 151.04 L425.61 151.04 L426.14 151.04 L426.66 151.04 L427.19 151.04 L427.72 151.04 L428.24 151.04 L428.77 151.04 L429.30 151.04 L429.83 151.04 L430.35 151.04 L430.88 151.04 L431.41 151.04 L431.93 151.04 L432.46 151.04 L432.99 151.04 L433.52 151.04 L434.04 151.04 L434.57 151.04 L435.10 151.04 L435.62 151.04 L436.15 151.04 L436.68 151.04 L437.21 151.04 L437.73 151.04 L438.26 151.04 L438.79 151.04 L439.31 151.04 L439.84 151.04 L440.37 151.04 L440.90 151.04 L441.42 151.04 L441.95 151.04 L442.48 151.04 L443.00 151.04 L443.53 151.04 L444.06 151.04 L444.59 151.04 L445.11 151.04 L445.64 151.04 L446.17 151.04 L446.69 151.04 L447.22 151.04 L447.75 151.04 L448.28 151.04 L448.80 151.04 L449.33 151.04 L449.86 151.04 L450.38 151.04 L450.91 151.04 L451.44 151.04 L451.97 151.04 L452.49 151.04 L453.02 151.04 L453.55 151.04 L454.07 151.04 L454.60 151.04 L455.13 151.04 L455.66 151.04 L456.18 151.04 L456.71 151.04 L457.24 151.04 L457.76 151.04 L458.29 151.04 L458.82 151.04 L459.35 151.04 L459.87 151.04 L460.40 151.04" fill="none" stroke="#0000ff" stroke-width="1.4" stroke-linejoin="round" stroke-linecap="butt"/>
<path d="M270.50 217.20 L302.91 217.20 L302.91 217.20 L303.44 214.54 L303.96 211.85 L304.49 209.15 L305.02 206.43 L305.54 203.69 L306.07 200.94 L306.60 198.18 L307.12 195.40 L307.65 192.61 L308.18 189.82 L308.70 187.02 L308.70 187.01 L309.23 184.00 L309.76 181.09 L310.00 179.99 L310.28 178.89 L310.81 177.11 L311.34 175.54 L311.86 174.03 L312.09 173.37 L312.39 172.46 L312.92 170.91 L313.44 169.40 L313.97 167.91 L314.50 166.44 L315.02 165.01 L315.09 164.82 L315.55 163.59 L316.08 162.19 L316.60 160.82 L317.13 159.47 L317.66 158.16 L318.10 157.08 L318.18 156.89 L318.71 155.60 L319.24 154.33 L319.76 153.12 L320.29 152.04 L320.60 151.49 L320.82 151.14 L321.34 150.31 L321.87 149.54 L322.40 148.87 L322.93 148.31 L323.20 148.08 L323.45 147.88 L323.98 147.48 L324.51 147.11 L325.03 146.79 L325.56 146.52 L326.09 146.31 L326.61 146.19 L326.62 146.19 L327.14 146.11 L327.67 146.04 L328.19 145.98 L328.72 145.92 L329.25 145.88 L329.77 145.85 L330.30 145.83 L330.83 145.82 L330.89 145.82 L331.35 145.83 L331.88 145.86 L332.41 145.90 L332.93 145.95 L333.46 146.02 L333.99 146.08 L334.51 146.14 L335.00 146.19 L335.04 146.19 L335.57 146.24 L336.09 146.29 L336.62 146.33 L337.15 146.38 L337.67 146.43 L338.20 146.48 L338.73 146.53 L339.25 146.57 L339.78 146.62 L340.31 146.67 L340.83 146.72 L341.36 146.77 L341.89 146.83 L342.09 146.85 L342.41 146.88 L342.94 146.93 L343.47 146.99 L343.99 147.05 L344.52 147.10 L345.05 147.16 L345.57 147.22 L346.10 147.28 L346.63 147.34 L347.15 147.40 L347.68 147.46 L348.21 147.52 L348.73 147.57 L349.26 147.63 L349.62 147.67 L349.79 147.68 L350.31 147.74 L350.84 147.79 L351.37 147.85 L351.89 147.90 L352.42 147.96 L352.95 148.01 L353.48 148.07 L354.00 148.12 L354.53 148.18 L355.06 148.23 L355.58 148.28 L356.11 148.33 L356.64 148.38 L357.16 148.44 L357.69 148.49 L358.22 148.54 L358.74 148.58 L359.27 148.63 L359.80 148.68 L360.01 148.70 L360.32 148.72 L360.85 148.77 L361.38 148.82 L361.90 148.86 L362.43 148.91 L362.96 148.95 L363.48 149.00 L364.01 149.05 L364.54 149.09 L365.06 149.14 L365.59 149.18 L366.12 149.22 L366.64 149.26 L367.17 149.30 L367.70 149.34 L368.22 149.38 L368.75 149.42 L369.28 149.46 L369.80 149.49 L370.33 149.52 L370.86 149.55 L371.38 149.58 L371.78 149.60 L371.91 149.61 L372.44 149.63 L372.96 149.66 L373.49 149.68 L374.02 149.71 L374.54 149.73 L375.07 149.75 L375.60 149.77 L376.12 149.79 L376.65 149.81 L377.18 149.83 L377.70 149.85 L378.23 149.87 L378.76 149.89 L379.28 149.91 L379.81 149.93 L380.34 149.94 L380.86 149.96 L381.39 149.97 L381.92 149.99 L382.44 150.00 L382.97 150.02 L383.50 150.03 L384.03 150.04 L384.44 150.05 L384.55 150.06 L385.08 150.07 L385.61 150.08 L386.13 150.09 L386.66 150.10 L387.19 150.11 L387.71 150.13 L388.24 150.14 L388.77 150.15 L389.29 150.16 L389.82 150.17 L390.35 150.18 L390.87 150.19 L391.40 150.20 L391.93 150.21 L392.45 150.22 L392.98 150.22 L393.51 150.23 L394.03 150.24 L394.56 150.24 L395.09 150.25 L395.61 150.25 L396.14 150.26 L396.67 150.26 L397.10 150.26 L397.19 150.26 L397.72 150.26 L398.25 150.26 L398.77 150.26 L399.30 150.26 L399.83 150.26 L400.35 150.26 L400.88 150.26 L401.41 150.26 L401.93 150.27 L402.46 150.27 L402.99 150.27 L403.51 150.27 L404.04 150.27 L404.57 150.27 L405.09 150.27 L405.62 150.27 L406.15 150.27 L406.67 150.27 L407.20 150.27 L407.73 150.27 L408.25 150.27 L408.78 150.27 L409.31 150.28 L409.83 150.28 L410.36 150.28 L410.89 150.28 L411.41 150.28 L411.94 150.28 L412.47 150.28 L412.99 150.28 L413.52 150.28 L414.05 150.28 L414.58 150.28 L415.10 150.28 L415.63 150.28 L416.16 150.28 L416.68 150.28 L417.21 150.28 L417.74 150.28 L418.26 150.28 L418.79 150.28 L419.32 150.28 L419.84 150.29 L420.37 150.29 L420.90 150.29 L421.42 150.29 L421.95 150.29 L422.48 150.29 L423.00 150.29 L423.53 150.29 L424.06 150.29 L424.58 150.29 L425.11 150.29 L425.64 150.29 L426.16 150.29 L426.69 150.29 L427.22 150.29 L427.74 150.29 L428.27 150.29 L428.80 150.29 L429.32 150.29 L429.85 150.29 L430.38 150.29 L430.90 150.29 L431.43 150.29 L431.96 150.29 L432.48 150.29 L433.01 150.29 L433.54 150.29 L434.06 150.29 L434.59 150.29 L435.12 150.29 L435.64 150.29 L436.17 150.30 L436.70 150.30 L437.22 150.30 L437.75 150.30 L438.28 150.30 L438.80 150.30 L439.33 150.30 L439.86 150.30 L440.38 150.30 L440.91 150.30 L441.44 150.30 L441.96 150.30 L442.49 150.30 L443.02 150.30 L443.54 150.30 L444.07 150.30 L444.60 150.30 L445.13 150.30 L445.65 150.30 L446.18 150.30 L446.71 150.30 L447.23 150.30 L447.76 150.30 L448.29 150.30 L448.81 150.30 L449.34 150.30 L449.87 150.30 L450.39 150.30 L450.92 150.30 L451.45 150.30 L451.97 150.30 L452.50 150.30 L453.03 150.30 L453.55 150.30 L454.08 150.30 L454.61 150.30 L455.13 150.30 L455.66 150.30 L456.19 150.30 L456.71 150.30 L457.24 150.30 L457.77 150.30 L458.29 150.30 L458.82 150.30 L459.35 150.30 L459.87 150.30 L460.40 150.30" fill="none" stroke="#ff0000" stroke-width="2.2" stroke-linejoin="round" stroke-linecap="butt"/>
</g>
<g id="pe">
<rect x="29.30" y="274.50" width="199.30" height="100.80" fill="none" stroke="#777" stroke-width="0.7"/>
<text x="29.30" y="385.50" class="t" font-size="7.7" text-anchor="middle">0.44</text>
<text x="62.52" y="385.50" class="t" font-size="7.7" text-anchor="middle">0.45</text>
<text x="95.73" y="385.50" class="t" font-size="7.7" text-anchor="middle">0.46</text>
<text x="128.95" y="385.50" class="t" font-size="7.7" text-anchor="middle">0.47</text>
<text x="162.17" y="385.50" class="t" font-size="7.7" text-anchor="middle">0.48</text>
<text x="195.38" y="385.50" class="t" font-size="7.7" text-anchor="middle">0.49</text>
<text x="228.60" y="385.50" class="t" font-size="7.7" text-anchor="middle">0.5</text>
<text x="26.50" y="378.15" class="t" font-size="7.7" text-anchor="end">310</text>
<text x="26.50" y="352.95" class="t" font-size="7.7" text-anchor="end">320</text>
<text x="26.50" y="327.75" class="t" font-size="7.7" text-anchor="end">330</text>
<text x="26.50" y="302.55" class="t" font-size="7.7" text-anchor="end">340</text>
<text x="26.50" y="277.35" class="t" font-size="7.7" text-anchor="end">350</text>
<path d="M29.30 375.30v-2.0M29.30 274.50v2.0M62.52 375.30v-2.0M62.52 274.50v2.0M95.73 375.30v-2.0M95.73 274.50v2.0M128.95 375.30v-2.0M128.95 274.50v2.0M162.17 375.30v-2.0M162.17 274.50v2.0M195.38 375.30v-2.0M195.38 274.50v2.0M228.60 375.30v-2.0M228.60 274.50v2.0M29.30 375.30h2.0M228.60 375.30h-2.0M29.30 350.10h2.0M228.60 350.10h-2.0M29.30 324.90h2.0M228.60 324.90h-2.0M29.30 299.70h2.0M228.60 299.70h-2.0M29.30 274.50h2.0M228.60 274.50h-2.0" stroke="#777" stroke-width="0.7" fill="none"/>
<text x="127.90" y="397.40" class="l" font-size="8.45" text-anchor="middle">Time(s)</text>
<text transform="translate(11.10 324.65) rotate(-90)" class="l" font-size="8.73" text-anchor="middle">Output Voltage of PV array(V)</text>
<text x="179.00" y="339.50" class="g" font-size="7.4" text-anchor="middle">(e)</text>
<path d="M62.52 329.94 L62.52 313.56 L70.82 313.56" fill="none" stroke="#000000" stroke-width="1.0" stroke-linejoin="round" stroke-linecap="butt"/>
<path d="M228.93 375.30 L228.93 314.82" fill="none" stroke="#000000" stroke-width="1.6" stroke-linejoin="round" stroke-linecap="butt" stroke-dasharray="2.5 0.6 0.8 0.6"/>
<path d="M29.30 334.98 L62.52 334.98 L63.07 333.13 L63.63 331.36 L64.18 329.69 L64.74 328.12 L65.29 326.67 L65.85 325.37 L66.40 324.22 L66.96 323.25 L67.20 322.88 L67.52 322.44 L68.07 321.68 L68.63 320.98 L69.18 320.34 L69.74 319.77 L70.29 319.27 L70.85 318.84 L71.40 318.50 L71.72 318.35 L71.96 318.24 L72.51 318.01 L73.07 317.78 L73.63 317.58 L74.18 317.41 L74.74 317.26 L75.29 317.16 L75.85 317.10 L76.20 317.09 L76.40 317.09 L76.96 317.09 L77.51 317.09 L78.07 317.09 L78.63 317.09 L79.18 317.09 L79.74 317.09 L80.29 317.09 L80.85 317.09 L81.40 317.09 L81.96 317.09 L82.51 317.09 L83.07 317.09 L83.62 317.09 L84.18 317.09 L84.74 317.09 L85.29 317.09 L85.85 317.09 L86.40 317.09 L86.96 317.09 L87.51 317.09 L88.07 317.09 L88.62 317.09 L89.18 317.09 L89.73 317.09 L90.29 317.09 L90.85 317.09 L91.40 317.09 L91.96 317.09 L92.51 317.09 L93.07 317.09 L93.62 317.09 L94.18 317.09 L94.73 317.09 L95.29 317.09 L95.73 317.09 L95.84 317.09 L96.40 317.09 L96.96 317.09 L97.51 317.09 L98.07 317.09 L98.62 317.09 L99.18 317.09 L99.73 317.09 L100.29 317.09 L100.84 317.09 L101.40 317.09 L101.95 317.09 L102.51 317.09 L103.07 317.09 L103.62 317.09 L104.18 317.09 L104.73 317.09 L105.29 317.09 L105.84 317.09 L106.40 317.09 L106.95 317.09 L107.51 317.09 L108.06 317.09 L108.62 317.09 L109.18 317.09 L109.73 317.09 L110.29 317.09 L110.84 317.10 L111.40 317.10 L111.95 317.10 L112.51 317.10 L113.06 317.10 L113.62 317.10 L114.17 317.10 L114.73 317.10 L115.29 317.10 L115.84 317.10 L116.40 317.10 L116.95 317.10 L117.51 317.10 L118.06 317.10 L118.62 317.10 L119.17 317.11 L119.73 317.11 L120.28 317.11 L120.84 317.11 L121.40 317.11 L121.95 317.11 L122.51 317.11 L123.06 317.11 L123.62 317.11 L124.17 317.11 L124.73 317.11 L125.28 317.12 L125.84 317.12 L126.39 317.12 L126.95 317.12 L127.51 317.12 L128.06 317.12 L128.62 317.12 L129.17 317.12 L129.73 317.12 L130.28 317.13 L130.84 317.13 L131.39 317.13 L131.95 317.13 L132.50 317.13 L133.06 317.13 L133.62 317.13 L134.17 317.13 L134.73 317.14 L135.28 317.14 L135.84 317.14 L136.39 317.14 L136.95 317.14 L137.50 317.14 L138.06 317.14 L138.62 317.15 L139.17 317.15 L139.73 317.15 L140.28 317.15 L140.84 317.15 L141.39 317.15 L141.95 317.15 L142.50 317.16 L143.06 317.16 L143.61 317.16 L144.17 317.16 L144.73 317.16 L145.28 317.16 L145.84 317.17 L146.39 317.17 L146.95 317.17 L147.50 317.17 L148.06 317.17 L148.61 317.17 L149.17 317.18 L149.72 317.18 L150.28 317.18 L150.84 317.18 L151.39 317.18 L151.95 317.18 L152.50 317.19 L153.06 317.19 L153.61 317.19 L154.17 317.19 L154.72 317.19 L155.28 317.20 L155.83 317.20 L156.39 317.20 L156.95 317.20 L157.50 317.20 L158.06 317.21 L158.61 317.21 L159.17 317.21 L159.72 317.21 L160.28 317.21 L160.83 317.22 L161.39 317.22 L161.94 317.22 L162.50 317.22 L163.06 317.23 L163.61 317.23 L164.17 317.23 L164.72 317.23 L165.28 317.23 L165.83 317.24 L166.39 317.24 L166.94 317.24 L167.50 317.24 L168.05 317.25 L168.61 317.25 L169.17 317.25 L169.72 317.25 L170.28 317.26 L170.83 317.26 L171.39 317.26 L171.94 317.26 L172.50 317.27 L173.05 317.27 L173.61 317.27 L174.16 317.27 L174.72 317.28 L175.28 317.28 L175.83 317.28 L176.39 317.28 L176.94 317.29 L177.50 317.29 L178.05 317.29 L178.61 317.29 L179.16 317.30 L179.72 317.30 L180.27 317.30 L180.83 317.30 L181.39 317.31 L181.94 317.31 L182.50 317.31 L183.05 317.32 L183.61 317.32 L184.16 317.32 L184.72 317.32 L185.27 317.33 L185.83 317.33 L186.38 317.33 L186.94 317.34 L187.50 317.34 L188.05 317.34 L188.61 317.34 L189.16 317.35 L189.72 317.35 L190.27 317.35 L190.83 317.36 L191.38 317.36 L191.94 317.36 L192.49 317.36 L193.05 317.37 L193.61 317.37 L194.16 317.37 L194.72 317.38 L195.27 317.38 L195.83 317.38 L196.38 317.39 L196.94 317.39 L197.49 317.39 L198.05 317.40 L198.61 317.40 L199.16 317.40 L199.72 317.41 L200.27 317.41 L200.83 317.41 L201.38 317.42 L201.94 317.42 L202.49 317.42 L203.05 317.42 L203.60 317.43 L204.16 317.43 L204.72 317.43 L205.27 317.44 L205.83 317.44 L206.38 317.45 L206.94 317.45 L207.49 317.45 L208.05 317.46 L208.60 317.46 L209.16 317.46 L209.71 317.47 L210.27 317.47 L210.83 317.47 L211.38 317.48 L211.94 317.48 L212.49 317.48 L213.05 317.49 L213.60 317.49 L214.16 317.49 L214.71 317.50 L215.27 317.50 L215.82 317.50 L216.38 317.51 L216.94 317.51 L217.49 317.52 L218.05 317.52 L218.60 317.52 L219.16 317.53 L219.71 317.53 L220.27 317.53 L220.82 317.54 L221.38 317.54 L221.93 317.55 L222.49 317.55 L223.05 317.55 L223.60 317.56 L224.16 317.56 L224.71 317.56 L225.27 317.57 L225.82 317.57 L226.38 317.58 L226.93 317.58 L227.49 317.58 L228.04 317.59 L228.60 317.59" fill="none" stroke="#0000ff" stroke-width="2.0" stroke-linejoin="round" stroke-linecap="butt"/>
<path d="M29.30 323.39 L29.97 323.43 L30.64 323.47 L31.30 323.50 L31.97 323.54 L32.64 323.58 L33.31 323.62 L33.97 323.66 L34.64 323.70 L35.31 323.74 L35.98 323.78 L36.64 323.82 L37.31 323.86 L37.98 323.90 L38.65 323.94 L39.31 323.99 L39.98 324.03 L40.65 324.07 L41.32 324.11 L41.99 324.15 L42.65 324.19 L43.32 324.23 L43.99 324.28 L44.66 324.32 L45.32 324.36 L45.91 324.40 L45.99 324.40 L46.66 324.45 L47.33 324.49 L47.99 324.55 L48.66 324.60 L49.33 324.66 L50.00 324.71 L50.67 324.77 L51.33 324.83 L52.00 324.89 L52.67 324.95 L53.34 325.00 L54.00 325.06 L54.67 325.11 L55.34 325.16 L56.01 325.21 L56.67 325.25 L57.34 325.29 L58.01 325.32 L58.68 325.35 L59.34 325.38 L60.01 325.39 L60.68 325.40 L61.19 325.40 L61.35 325.39 L62.02 325.06 L62.68 324.44 L63.18 323.89 L63.35 323.68 L64.02 322.43 L64.69 320.72 L65.35 318.86 L66.02 317.11 L66.50 316.08 L66.69 315.74 L67.36 314.53 L68.02 313.39 L68.69 312.34 L69.36 311.43 L70.03 310.69 L70.19 310.54 L70.70 310.11 L71.36 309.59 L72.03 309.12 L72.70 308.71 L73.37 308.35 L74.03 308.03 L74.70 307.77 L74.71 307.76 L75.37 307.52 L76.04 307.27 L76.70 307.04 L77.37 306.82 L78.04 306.63 L78.71 306.47 L79.37 306.35 L80.04 306.27 L80.59 306.25 L80.71 306.25 L81.38 306.26 L82.05 306.28 L82.71 306.31 L83.38 306.34 L84.05 306.38 L84.72 306.43 L85.38 306.48 L86.05 306.53 L86.72 306.58 L87.39 306.64 L88.05 306.69 L88.72 306.73 L89.09 306.76 L89.39 306.77 L90.06 306.82 L90.73 306.87 L91.39 306.92 L92.06 306.97 L92.73 307.02 L93.40 307.07 L94.06 307.11 L94.73 307.15 L95.40 307.19 L96.07 307.23 L96.73 307.25 L97.00 307.26 L97.40 307.27 L98.07 307.29 L98.74 307.31 L99.40 307.33 L100.07 307.34 L100.74 307.36 L101.41 307.38 L102.08 307.39 L102.74 307.41 L103.41 307.42 L104.08 307.44 L104.75 307.45 L105.41 307.46 L106.08 307.48 L106.75 307.49 L107.42 307.50 L108.08 307.51 L108.75 307.53 L109.42 307.54 L110.09 307.55 L110.76 307.56 L111.42 307.57 L112.09 307.58 L112.76 307.59 L113.43 307.60 L114.09 307.61 L114.76 307.62 L115.43 307.63 L116.10 307.64 L116.76 307.64 L117.43 307.65 L118.10 307.66 L118.77 307.67 L119.43 307.67 L120.10 307.68 L120.77 307.69 L121.44 307.70 L122.11 307.70 L122.77 307.71 L123.44 307.72 L124.11 307.72 L124.78 307.73 L125.44 307.73 L126.11 307.74 L126.78 307.75 L127.45 307.75 L128.11 307.76 L128.78 307.76 L128.95 307.76 L129.45 307.77 L130.12 307.77 L130.79 307.78 L131.45 307.78 L132.12 307.79 L132.79 307.80 L133.46 307.80 L134.12 307.81 L134.79 307.81 L135.46 307.82 L136.13 307.82 L136.79 307.83 L137.46 307.83 L138.13 307.84 L138.80 307.84 L139.46 307.85 L140.13 307.86 L140.80 307.86 L141.47 307.87 L142.14 307.87 L142.80 307.88 L143.47 307.88 L144.14 307.89 L144.81 307.89 L145.47 307.90 L146.14 307.90 L146.81 307.91 L147.48 307.91 L148.14 307.92 L148.81 307.92 L149.48 307.93 L150.15 307.93 L150.82 307.94 L151.48 307.94 L152.15 307.95 L152.82 307.95 L153.49 307.96 L154.15 307.96 L154.82 307.97 L155.49 307.97 L156.16 307.98 L156.82 307.98 L157.49 307.99 L158.16 307.99 L158.83 308.00 L159.49 308.00 L160.16 308.00 L160.83 308.01 L161.50 308.01 L162.17 308.02 L162.83 308.02 L163.50 308.03 L164.17 308.03 L164.84 308.04 L165.50 308.04 L166.17 308.04 L166.84 308.05 L167.51 308.05 L168.17 308.06 L168.84 308.06 L169.51 308.07 L170.18 308.07 L170.85 308.07 L171.51 308.08 L172.18 308.08 L172.85 308.09 L173.52 308.09 L174.18 308.09 L174.85 308.10 L175.52 308.10 L176.19 308.11 L176.85 308.11 L177.52 308.11 L178.19 308.12 L178.86 308.12 L179.52 308.12 L180.19 308.13 L180.86 308.13 L181.53 308.13 L182.20 308.14 L182.86 308.14 L183.53 308.14 L184.20 308.15 L184.87 308.15 L185.53 308.15 L186.20 308.16 L186.87 308.16 L187.54 308.16 L188.20 308.17 L188.87 308.17 L189.54 308.17 L190.21 308.18 L190.88 308.18 L191.54 308.18 L192.21 308.19 L192.88 308.19 L193.55 308.19 L194.21 308.19 L194.88 308.20 L195.55 308.20 L196.22 308.20 L196.88 308.20 L197.55 308.21 L198.22 308.21 L198.89 308.21 L199.55 308.21 L200.22 308.22 L200.89 308.22 L201.56 308.22 L202.23 308.22 L202.89 308.23 L203.56 308.23 L204.23 308.23 L204.90 308.23 L205.56 308.23 L206.23 308.24 L206.90 308.24 L207.57 308.24 L208.23 308.24 L208.90 308.24 L209.57 308.24 L210.24 308.25 L210.91 308.25 L211.57 308.25 L212.24 308.25 L212.91 308.25 L213.58 308.25 L214.24 308.25 L214.91 308.26 L215.58 308.26 L216.25 308.26 L216.91 308.26 L217.58 308.26 L218.25 308.26 L218.92 308.26 L219.58 308.26 L220.25 308.26 L220.92 308.26 L221.59 308.26 L222.26 308.27 L222.92 308.27 L223.59 308.27 L224.26 308.27 L224.93 308.27 L225.59 308.27 L226.26 308.27 L226.93 308.27 L227.60 308.27 L228.26 308.27 L228.93 308.27 L228.93 318.35 L228.38 318.35 L227.82 318.35 L227.26 318.35 L226.71 318.35 L226.15 318.35 L225.59 318.35 L225.04 318.35 L224.48 318.35 L223.92 318.35 L223.37 318.35 L222.81 318.35 L222.25 318.35 L221.70 318.35 L221.14 318.35 L220.58 318.35 L220.03 318.35 L219.47 318.35 L218.91 318.35 L218.36 318.35 L217.80 318.35 L217.24 318.35 L216.69 318.35 L216.13 318.35 L215.57 318.35 L215.02 318.35 L214.46 318.35 L213.90 318.35 L213.35 318.35 L212.79 318.35 L212.23 318.35 L211.68 318.35 L211.12 318.35 L210.57 318.35 L210.01 318.34 L209.45 318.34 L208.90 318.34 L208.34 318.34 L207.78 318.34 L207.23 318.34 L206.67 318.34 L206.11 318.34 L205.56 318.34 L205.00 318.34 L204.44 318.34 L203.89 318.34 L203.33 318.34 L202.77 318.34 L202.22 318.34 L201.66 318.34 L201.10 318.34 L200.55 318.34 L199.99 318.34 L199.43 318.34 L198.88 318.34 L198.32 318.34 L197.76 318.34 L197.21 318.34 L196.65 318.34 L196.09 318.34 L195.54 318.34 L194.98 318.34 L194.42 318.34 L193.87 318.34 L193.31 318.34 L192.75 318.33 L192.20 318.33 L191.64 318.33 L191.09 318.33 L190.53 318.33 L189.97 318.33 L189.42 318.33 L188.86 318.33 L188.30 318.33 L187.75 318.33 L187.19 318.33 L186.63 318.33 L186.08 318.33 L185.52 318.33 L184.96 318.33 L184.41 318.33 L183.85 318.33 L183.29 318.33 L182.74 318.33 L182.18 318.32 L181.62 318.32 L181.07 318.32 L180.51 318.32 L179.95 318.32 L179.40 318.32 L178.84 318.32 L178.28 318.32 L177.73 318.32 L177.17 318.32 L176.61 318.32 L176.06 318.32 L175.50 318.32 L174.94 318.32 L174.39 318.31 L173.83 318.31 L173.27 318.31 L172.72 318.31 L172.16 318.31 L171.61 318.31 L171.05 318.31 L170.49 318.31 L169.94 318.31 L169.38 318.31 L168.82 318.31 L168.27 318.31 L167.71 318.30 L167.15 318.30 L166.60 318.30 L166.04 318.30 L165.48 318.30 L164.93 318.30 L164.37 318.30 L163.81 318.30 L163.26 318.30 L162.70 318.30 L162.14 318.29 L161.59 318.29 L161.03 318.29 L160.47 318.29 L159.92 318.29 L159.36 318.29 L158.80 318.29 L158.25 318.29 L157.69 318.29 L157.13 318.28 L156.58 318.28 L156.02 318.28 L155.46 318.28 L154.91 318.28 L154.35 318.28 L153.79 318.28 L153.24 318.28 L152.68 318.28 L152.13 318.27 L151.57 318.27 L151.01 318.27 L150.46 318.27 L149.90 318.27 L149.34 318.27 L148.79 318.27 L148.23 318.26 L147.67 318.26 L147.12 318.26 L146.56 318.26 L146.00 318.26 L145.45 318.26 L144.89 318.26 L144.33 318.25 L143.78 318.25 L143.22 318.25 L142.66 318.25 L142.11 318.25 L141.55 318.25 L140.99 318.25 L140.44 318.24 L139.88 318.24 L139.32 318.24 L138.77 318.24 L138.21 318.24 L137.65 318.24 L137.10 318.23 L136.54 318.23 L135.98 318.23 L135.43 318.23 L134.87 318.23 L134.31 318.23 L133.76 318.22 L133.20 318.22 L132.64 318.22 L132.09 318.22 L131.53 318.22 L130.98 318.21 L130.42 318.21 L129.86 318.21 L129.31 318.21 L128.75 318.21 L128.19 318.20 L127.64 318.20 L127.08 318.20 L126.52 318.20 L125.97 318.20 L125.41 318.20 L124.85 318.19 L124.30 318.19 L123.74 318.19 L123.18 318.19 L122.63 318.18 L122.07 318.18 L121.51 318.18 L120.96 318.18 L120.40 318.18 L119.84 318.17 L119.29 318.17 L118.73 318.17 L118.17 318.17 L117.62 318.17 L117.06 318.16 L116.50 318.16 L115.95 318.16 L115.39 318.16 L114.83 318.15 L114.28 318.15 L113.72 318.15 L113.16 318.15 L112.61 318.14 L112.05 318.14 L111.50 318.14 L110.94 318.14 L110.38 318.13 L109.83 318.13 L109.27 318.13 L108.71 318.13 L108.16 318.12 L107.60 318.12 L107.04 318.12 L106.49 318.12 L105.93 318.11 L105.37 318.11 L104.82 318.11 L104.26 318.11 L103.70 318.10 L103.15 318.10 L102.59 318.10 L102.38 318.10 L102.03 318.09 L101.48 318.09 L100.92 318.08 L100.36 318.07 L99.81 318.05 L99.25 318.04 L98.69 318.02 L98.14 318.00 L97.58 317.98 L97.02 317.96 L96.47 317.93 L95.91 317.91 L95.35 317.88 L94.80 317.86 L94.24 317.83 L93.68 317.80 L93.13 317.77 L92.57 317.75 L92.02 317.72 L91.46 317.69 L90.90 317.67 L90.35 317.64 L89.79 317.62 L89.23 317.60 L89.09 317.59 L88.68 317.58 L88.12 317.55 L87.56 317.53 L87.01 317.50 L86.45 317.47 L85.89 317.44 L85.34 317.42 L84.78 317.39 L84.22 317.36 L83.67 317.33 L83.11 317.30 L82.55 317.27 L82.00 317.25 L81.44 317.22 L80.88 317.20 L80.33 317.18 L79.77 317.16 L79.21 317.14 L78.66 317.12 L78.10 317.11 L77.54 317.10 L76.99 317.09 L76.43 317.09 L76.20 317.09 L75.87 317.10 L75.32 317.14 L74.76 317.22 L74.20 317.33 L73.65 317.47 L73.09 317.63 L72.53 317.81 L71.98 318.00 L71.72 318.10 L71.42 318.22 L70.87 318.54 L70.31 318.95 L69.75 319.46 L69.20 320.05 L68.64 320.70 L68.08 321.41 L67.53 322.17 L67.20 322.63 L66.97 323.00 L66.41 324.15 L65.86 325.59 L65.30 327.21 L64.74 328.91 L64.19 330.56 L63.63 332.08 L63.07 333.34 L62.72 333.97 L62.52 334.22 L29.30 333.97Z" fill="#ff0000" stroke="none"/>
</g>
<g id="pf">
<rect x="262.50" y="272.80" width="197.00" height="103.00" fill="none" stroke="#777" stroke-width="0.7"/>
<text x="262.50" y="386.30" class="t" font-size="7.7" text-anchor="middle">0.49</text>
<text x="295.33" y="386.30" class="t" font-size="7.7" text-anchor="middle">0.5</text>
<text x="328.17" y="386.30" class="t" font-size="7.7" text-anchor="middle">0.51</text>
<text x="361.00" y="386.30" class="t" font-size="7.7" text-anchor="middle">0.52</text>
<text x="393.83" y="386.30" class="t" font-size="7.7" text-anchor="middle">0.53</text>
<text x="426.67" y="386.30" class="t" font-size="7.7" text-anchor="middle">0.54</text>
<text x="459.50" y="386.30" class="t" font-size="7.7" text-anchor="middle">0.55</text>
<text x="259.70" y="378.65" class="t" font-size="7.7" text-anchor="end">100</text>
<text x="259.70" y="358.05" class="t" font-size="7.7" text-anchor="end">150</text>
<text x="259.70" y="337.45" class="t" font-size="7.7" text-anchor="end">200</text>
<text x="259.70" y="316.85" class="t" font-size="7.7" text-anchor="end">250</text>
<text x="259.70" y="296.25" class="t" font-size="7.7" text-anchor="end">300</text>
<text x="259.70" y="275.65" class="t" font-size="7.7" text-anchor="end">350</text>
<path d="M262.50 375.80v-2.0M262.50 272.80v2.0M295.33 375.80v-2.0M295.33 272.80v2.0M328.17 375.80v-2.0M328.17 272.80v2.0M361.00 375.80v-2.0M361.00 272.80v2.0M393.83 375.80v-2.0M393.83 272.80v2.0M426.67 375.80v-2.0M426.67 272.80v2.0M459.50 375.80v-2.0M459.50 272.80v2.0M262.50 375.80h2.0M459.50 375.80h-2.0M262.50 355.20h2.0M459.50 355.20h-2.0M262.50 334.60h2.0M459.50 334.60h-2.0M262.50 314.00h2.0M459.50 314.00h-2.0M262.50 293.40h2.0M459.50 293.40h-2.0M262.50 272.80h2.0M459.50 272.80h-2.0" stroke="#777" stroke-width="0.7" fill="none"/>
<text x="370.10" y="400.00" class="l" font-size="8.45" text-anchor="middle">Time(s)</text>
<text transform="translate(244.40 324.40) rotate(-90)" class="l" font-size="8.7" text-anchor="middle">Output Voltage of PV array(V)</text>
<text x="416.50" y="307.00" class="s" font-size="7.0" text-anchor="middle">(f)</text>
<path d="M295.66 278.98 L295.66 347.37" fill="none" stroke="#000000" stroke-width="1.3" stroke-linejoin="round" stroke-linecap="butt" stroke-dasharray="2.5 0.6 0.8 0.6"/>
<path d="M294.35 347.41 L459.50 347.41" fill="none" stroke="#000000" stroke-width="1.2" stroke-linejoin="round" stroke-linecap="butt"/>
<path d="M295.50 279.39 L298.22 334.60 L298.72 344.90 L299.27 348.20 L300.82 349.89 L303.80 350.75 L311.75 350.83 L459.50 350.83" fill="none" stroke="#0000ff" stroke-width="1.5" stroke-linejoin="round" stroke-linecap="butt"/>
<path d="M262.50 277.91 L296.25 277.91 L299.54 342.02 L299.93 343.09 L324.88 344.08 L400.07 345.23 L459.50 346.34 L459.50 348.65 L400.07 347.54 L324.88 346.38 L298.22 345.60 L297.83 344.49 L295.01 280.92 L262.50 280.92Z" fill="#ff0000" stroke="none"/>
</g>
<g id="pg">
<rect x="29.30" y="406.70" width="199.30" height="99.50" fill="none" stroke="#777" stroke-width="0.7"/>
<text x="29.30" y="516.60" class="t" font-size="7.7" text-anchor="middle">0.54</text>
<text x="79.13" y="516.60" class="t" font-size="7.7" text-anchor="middle">0.59</text>
<text x="128.95" y="516.60" class="t" font-size="7.7" text-anchor="middle">0.64</text>
<text x="178.78" y="516.60" class="t" font-size="7.7" text-anchor="middle">0.69</text>
<text x="228.60" y="516.60" class="t" font-size="7.7" text-anchor="middle">0.74</text>
<text x="26.50" y="509.05" class="t" font-size="7.7" text-anchor="end">120</text>
<text x="26.50" y="484.18" class="t" font-size="7.7" text-anchor="end">140</text>
<text x="26.50" y="459.30" class="t" font-size="7.7" text-anchor="end">160</text>
<text x="26.50" y="434.43" class="t" font-size="7.7" text-anchor="end">180</text>
<text x="26.50" y="409.55" class="t" font-size="7.7" text-anchor="end">200</text>
<path d="M29.30 506.20v-2.0M29.30 406.70v2.0M79.13 506.20v-2.0M79.13 406.70v2.0M128.95 506.20v-2.0M128.95 406.70v2.0M178.78 506.20v-2.0M178.78 406.70v2.0M228.60 506.20v-2.0M228.60 406.70v2.0M29.30 506.20h2.0M228.60 506.20h-2.0M29.30 481.32h2.0M228.60 481.32h-2.0M29.30 456.45h2.0M228.60 456.45h-2.0M29.30 431.57h2.0M228.60 431.57h-2.0M29.30 406.70h2.0M228.60 406.70h-2.0" stroke="#777" stroke-width="0.7" fill="none"/>
<text x="128.40" y="528.70" class="l" font-size="8.0" text-anchor="middle">Time(s)</text>
<text transform="translate(11.10 456.40) rotate(-90)" class="l" font-size="8.66" text-anchor="middle">Output Voltage of PV array(V)</text>
<text x="186.60" y="471.00" class="g" font-size="7.8" text-anchor="middle">(g)</text>
<path d="M29.30 455.08 L30.30 455.10 L31.31 455.12 L32.31 455.14 L33.31 455.16 L34.31 455.18 L35.32 455.20 L36.32 455.22 L37.32 455.24 L38.32 455.26 L39.33 455.28 L40.33 455.30 L41.33 455.32 L42.33 455.34 L43.34 455.36 L44.34 455.38 L45.34 455.40 L46.34 455.42 L47.35 455.45 L48.35 455.47 L49.35 455.49 L50.35 455.51 L51.36 455.53 L52.36 455.55 L53.36 455.57 L54.36 455.59 L55.37 455.61 L56.37 455.63 L57.37 455.65 L58.37 455.67 L59.38 455.69 L60.38 455.71 L61.38 455.74 L62.38 455.76 L63.39 455.78 L64.39 455.80 L65.39 455.82 L66.39 455.84 L67.40 455.86 L68.40 455.88 L69.40 455.90 L70.40 455.92 L71.41 455.95 L72.41 455.97 L73.41 455.99 L74.41 456.01 L75.42 456.03 L76.42 456.05 L77.42 456.07 L78.42 456.10 L79.43 456.12 L80.43 456.14 L81.43 456.16 L82.43 456.18 L83.44 456.20 L84.44 456.22 L85.44 456.25 L86.44 456.27 L87.45 456.29 L88.45 456.31 L89.09 456.33 L89.45 456.33 L90.45 456.36 L91.46 456.38 L92.46 456.40 L93.46 456.42 L94.46 456.44 L95.47 456.46 L96.47 456.48 L97.47 456.51 L98.47 456.53 L99.48 456.55 L100.48 456.57 L101.48 456.59 L102.48 456.61 L103.49 456.63 L104.49 456.66 L105.49 456.68 L106.49 456.70 L107.50 456.72 L108.50 456.74 L109.50 456.76 L110.50 456.78 L111.51 456.80 L112.51 456.83 L113.51 456.85 L114.51 456.87 L115.52 456.89 L116.52 456.91 L117.52 456.93 L118.52 456.95 L119.53 456.98 L120.53 457.00 L121.53 457.02 L122.53 457.04 L123.54 457.06 L124.54 457.09 L125.54 457.11 L126.54 457.13 L127.55 457.15 L128.55 457.17 L129.55 457.20 L130.55 457.22 L131.56 457.24 L132.56 457.26 L133.56 457.29 L134.56 457.31 L135.57 457.33 L136.57 457.35 L137.57 457.38 L138.57 457.40 L139.58 457.42 L140.58 457.45 L141.58 457.47 L142.58 457.49 L143.59 457.52 L144.59 457.54 L145.59 457.57 L146.59 457.59 L147.60 457.61 L148.60 457.64 L149.60 457.66 L150.60 457.69 L151.61 457.71 L152.61 457.74 L153.61 457.76 L154.61 457.79 L155.62 457.82 L156.62 457.84 L157.62 457.87 L158.62 457.89 L159.63 457.92 L160.63 457.95 L161.63 457.97 L162.63 458.00 L163.64 458.03 L164.64 458.06 L165.02 458.07 L165.64 458.08 L166.64 458.11 L167.65 458.14 L168.65 458.16 L169.65 458.19 L170.65 458.22 L171.66 458.24 L172.66 458.27 L173.66 458.29 L174.66 458.32 L175.67 458.34 L176.67 458.37 L177.67 458.39 L178.67 458.42 L179.68 458.44 L180.68 458.47 L181.68 458.49 L182.68 458.52 L183.69 458.55 L184.69 458.57 L185.69 458.60 L186.69 458.63 L187.70 458.66 L188.70 458.69 L189.70 458.72 L190.70 458.75 L191.71 458.78 L192.71 458.81 L193.71 458.85 L194.71 458.88 L195.72 458.92 L196.72 458.96 L197.72 458.99 L198.72 459.03 L199.73 459.07 L200.73 459.12 L201.73 459.16 L202.73 459.21 L203.74 459.25 L204.74 459.30 L205.74 459.35 L206.74 459.40 L207.75 459.45 L208.75 459.51 L209.67 459.56 L209.75 459.56 L210.75 459.64 L211.76 459.75 L212.76 459.88 L213.76 460.03 L214.76 460.17 L215.77 460.32 L216.77 460.45 L217.77 460.56 L218.77 460.64 L219.78 460.68 L220.13 460.68 L220.78 460.66 L221.78 460.56 L222.78 460.38 L223.79 460.15 L224.61 459.93 L224.79 459.88 L225.79 459.39 L226.79 458.66 L227.80 457.73 L228.80 456.70" fill="none" stroke="#0000ff" stroke-width="2.1" stroke-linejoin="round" stroke-linecap="butt"/>
<path d="M29.30 441.52 L30.30 441.58 L31.31 441.63 L32.31 441.68 L33.31 441.73 L34.31 441.79 L35.32 441.84 L36.32 441.89 L37.32 441.94 L38.32 441.99 L39.33 442.04 L40.33 442.09 L41.33 442.13 L42.33 442.18 L43.34 442.23 L44.34 442.28 L45.34 442.33 L46.34 442.37 L47.35 442.42 L48.35 442.47 L49.35 442.51 L50.35 442.56 L51.36 442.60 L52.36 442.65 L53.36 442.69 L54.36 442.74 L55.37 442.78 L56.37 442.82 L57.37 442.86 L58.37 442.91 L59.38 442.95 L60.38 442.99 L61.38 443.03 L62.38 443.07 L63.39 443.11 L64.18 443.14 L64.39 443.15 L65.39 443.19 L66.39 443.23 L67.40 443.26 L68.40 443.30 L69.40 443.34 L70.40 443.37 L71.41 443.41 L72.41 443.45 L73.41 443.48 L74.41 443.51 L75.42 443.55 L76.42 443.58 L77.42 443.62 L78.42 443.65 L79.43 443.68 L80.43 443.72 L81.43 443.75 L82.43 443.78 L83.44 443.81 L84.44 443.85 L85.44 443.88 L86.44 443.91 L87.45 443.94 L88.45 443.98 L89.45 444.01 L90.45 444.04 L91.46 444.07 L92.46 444.11 L93.46 444.14 L94.46 444.17 L95.47 444.21 L96.47 444.24 L97.06 444.26 L97.47 444.28 L98.47 444.31 L99.48 444.34 L100.48 444.38 L101.48 444.42 L102.48 444.45 L103.49 444.49 L104.49 444.52 L105.49 444.56 L106.49 444.60 L107.50 444.63 L108.50 444.67 L109.50 444.71 L110.50 444.74 L111.51 444.78 L112.51 444.82 L113.51 444.85 L114.51 444.89 L115.52 444.93 L116.52 444.97 L117.52 445.00 L118.52 445.04 L119.53 445.08 L120.53 445.12 L121.53 445.15 L122.53 445.19 L123.54 445.23 L124.54 445.27 L125.54 445.30 L126.54 445.34 L127.55 445.38 L128.55 445.42 L129.55 445.45 L130.55 445.49 L131.56 445.53 L132.56 445.56 L133.56 445.60 L134.56 445.64 L135.57 445.67 L136.57 445.71 L137.57 445.75 L138.57 445.78 L139.58 445.82 L140.58 445.85 L141.58 445.89 L142.58 445.92 L143.59 445.96 L144.59 445.99 L145.59 446.03 L146.59 446.06 L147.60 446.09 L148.60 446.13 L149.60 446.16 L150.60 446.19 L151.61 446.23 L152.61 446.26 L153.61 446.29 L154.61 446.32 L155.62 446.35 L156.62 446.38 L157.62 446.41 L158.62 446.44 L159.63 446.47 L160.63 446.50 L161.63 446.53 L162.63 446.56 L163.64 446.59 L164.64 446.61 L165.02 446.62 L165.64 446.64 L166.64 446.67 L167.65 446.69 L168.65 446.71 L169.65 446.74 L170.65 446.76 L171.66 446.78 L172.66 446.80 L173.66 446.82 L174.66 446.84 L175.67 446.86 L176.67 446.87 L177.67 446.89 L178.67 446.91 L179.68 446.93 L180.68 446.94 L181.68 446.96 L182.68 446.98 L183.69 446.99 L184.69 447.01 L185.69 447.02 L186.69 447.04 L187.70 447.06 L188.70 447.08 L189.70 447.09 L190.70 447.11 L191.71 447.13 L192.71 447.15 L193.71 447.17 L194.71 447.19 L195.72 447.21 L196.72 447.23 L197.72 447.26 L198.72 447.28 L199.73 447.30 L200.73 447.33 L201.73 447.36 L202.73 447.39 L203.74 447.41 L204.74 447.45 L205.74 447.48 L206.74 447.51 L207.75 447.55 L208.75 447.58 L209.67 447.62 L209.75 447.62 L210.75 447.68 L211.76 447.75 L212.76 447.84 L213.76 447.95 L214.76 448.06 L215.77 448.17 L216.77 448.29 L217.77 448.40 L218.77 448.50 L219.78 448.59 L220.78 448.66 L221.78 448.71 L222.78 448.74 L223.12 448.74 L223.79 448.67 L224.79 448.35 L225.61 447.99 L225.79 447.90 L226.79 447.19 L227.80 446.15 L228.80 444.88 L228.80 450.98 L227.80 451.90 L226.79 452.65 L225.79 453.16 L225.61 453.22 L224.79 453.45 L223.79 453.67 L223.12 453.71 L222.78 453.71 L221.78 453.70 L220.78 453.67 L219.78 453.62 L218.77 453.57 L217.77 453.50 L216.77 453.43 L215.77 453.36 L214.76 453.28 L213.76 453.21 L212.76 453.14 L211.76 453.07 L210.75 453.02 L209.75 452.97 L209.67 452.97 L208.75 452.93 L207.75 452.90 L206.74 452.86 L205.74 452.83 L204.74 452.80 L203.74 452.77 L202.73 452.74 L201.73 452.71 L200.73 452.68 L199.73 452.65 L198.72 452.63 L197.72 452.60 L196.72 452.57 L195.72 452.55 L194.71 452.53 L193.71 452.50 L192.71 452.48 L191.71 452.46 L190.70 452.43 L189.70 452.41 L188.70 452.39 L187.70 452.37 L186.69 452.35 L185.69 452.33 L184.69 452.31 L183.69 452.29 L182.68 452.26 L181.68 452.24 L180.68 452.22 L179.68 452.20 L178.67 452.18 L177.67 452.16 L176.67 452.14 L175.67 452.11 L174.66 452.09 L173.66 452.07 L172.66 452.05 L171.66 452.02 L170.65 452.00 L169.65 451.97 L168.65 451.95 L167.65 451.92 L166.64 451.89 L165.64 451.87 L165.02 451.85 L164.64 451.84 L163.64 451.81 L162.63 451.78 L161.63 451.75 L160.63 451.72 L159.63 451.69 L158.62 451.66 L157.62 451.62 L156.62 451.59 L155.62 451.56 L154.61 451.53 L153.61 451.49 L152.61 451.46 L151.61 451.43 L150.60 451.39 L149.60 451.36 L148.60 451.33 L147.60 451.29 L146.59 451.26 L145.59 451.22 L144.59 451.19 L143.59 451.15 L142.58 451.11 L141.58 451.08 L140.58 451.04 L139.58 451.01 L138.57 450.97 L137.57 450.93 L136.57 450.90 L135.57 450.86 L134.56 450.82 L133.56 450.79 L132.56 450.75 L131.56 450.71 L130.55 450.68 L129.55 450.64 L128.55 450.60 L127.55 450.57 L126.54 450.53 L125.54 450.49 L124.54 450.45 L123.54 450.42 L122.53 450.38 L121.53 450.34 L120.53 450.31 L119.53 450.27 L118.52 450.23 L117.52 450.20 L116.52 450.16 L115.52 450.12 L114.51 450.09 L113.51 450.05 L112.51 450.01 L111.51 449.98 L110.50 449.94 L109.50 449.91 L108.50 449.87 L107.50 449.84 L106.49 449.80 L105.49 449.77 L104.49 449.73 L103.49 449.70 L102.48 449.66 L101.48 449.63 L100.48 449.60 L99.48 449.56 L98.47 449.53 L97.47 449.50 L97.06 449.49 L96.47 449.47 L95.47 449.43 L94.46 449.40 L93.46 449.37 L92.46 449.34 L91.46 449.31 L90.45 449.28 L89.45 449.25 L88.45 449.22 L87.45 449.19 L86.44 449.16 L85.44 449.13 L84.44 449.11 L83.44 449.08 L82.43 449.05 L81.43 449.02 L80.43 448.99 L79.43 448.96 L78.42 448.93 L77.42 448.90 L76.42 448.87 L75.42 448.84 L74.41 448.81 L73.41 448.78 L72.41 448.75 L71.41 448.72 L70.40 448.69 L69.40 448.66 L68.40 448.63 L67.40 448.60 L66.39 448.56 L65.39 448.53 L64.39 448.50 L64.18 448.49 L63.39 448.46 L62.38 448.43 L61.38 448.39 L60.38 448.36 L59.38 448.32 L58.37 448.29 L57.37 448.25 L56.37 448.21 L55.37 448.18 L54.36 448.14 L53.36 448.10 L52.36 448.06 L51.36 448.03 L50.35 447.99 L49.35 447.95 L48.35 447.91 L47.35 447.87 L46.34 447.83 L45.34 447.79 L44.34 447.75 L43.34 447.71 L42.33 447.67 L41.33 447.63 L40.33 447.59 L39.33 447.55 L38.32 447.51 L37.32 447.47 L36.32 447.42 L35.32 447.38 L34.31 447.34 L33.31 447.30 L32.31 447.25 L31.31 447.21 L30.30 447.17 L29.30 447.12Z" fill="#ff0000" stroke="none"/>
</g>
<g id="ph">
<rect x="261.10" y="407.80" width="198.30" height="96.80" fill="none" stroke="#999" stroke-width="1.15"/>
<text x="261.10" y="514.90" class="t" font-size="7.7" text-anchor="middle">0.74</text>
<text x="289.43" y="514.90" class="t" font-size="7.7" text-anchor="middle">0.77</text>
<text x="317.76" y="514.90" class="t" font-size="7.7" text-anchor="middle">0.8</text>
<text x="346.09" y="514.90" class="t" font-size="7.7" text-anchor="middle">0.83</text>
<text x="374.41" y="514.90" class="t" font-size="7.7" text-anchor="middle">0.86</text>
<text x="402.74" y="514.90" class="t" font-size="7.7" text-anchor="middle">0.89</text>
<text x="431.07" y="514.90" class="t" font-size="7.7" text-anchor="middle">0.92</text>
<text x="459.40" y="514.90" class="t" font-size="7.7" text-anchor="middle">0.95</text>
<text x="258.30" y="507.45" class="t" font-size="7.7" text-anchor="end">100</text>
<text x="258.30" y="475.18" class="t" font-size="7.7" text-anchor="end">200</text>
<text x="258.30" y="442.92" class="t" font-size="7.7" text-anchor="end">300</text>
<text x="258.30" y="410.65" class="t" font-size="7.7" text-anchor="end">400</text>
<path d="M261.10 504.60v-2.0M261.10 407.80v2.0M289.43 504.60v-2.0M289.43 407.80v2.0M317.76 504.60v-2.0M317.76 407.80v2.0M346.09 504.60v-2.0M346.09 407.80v2.0M374.41 504.60v-2.0M374.41 407.80v2.0M402.74 504.60v-2.0M402.74 407.80v2.0M431.07 504.60v-2.0M431.07 407.80v2.0M459.40 504.60v-2.0M459.40 407.80v2.0M261.10 504.60h2.0M459.40 504.60h-2.0M261.10 472.33h2.0M459.40 472.33h-2.0M261.10 440.07h2.0M459.40 440.07h-2.0M261.10 407.80h2.0M459.40 407.80h-2.0" stroke="#999" stroke-width="1.15" fill="none"/>
<text x="375.10" y="527.40" class="l" font-size="7.85" text-anchor="middle">Time(s)</text>
<text transform="translate(242.50 456.20) rotate(-90)" class="l" font-size="8.66" text-anchor="middle">Output Voltage of PV array(V)</text>
<text x="421.20" y="450.50" class="g" font-size="7.8" text-anchor="middle">(h)</text>
<path d="M261.10 482.21 L261.19 482.14 L261.29 482.07 L261.38 481.99 L261.48 481.91 L261.57 481.82 L261.67 481.73 L261.76 481.63 L261.86 481.53 L261.95 481.42 L262.05 481.31 L262.14 481.20 L262.24 481.09 L262.33 480.97 L262.43 480.85 L262.52 480.72 L262.62 480.59 L262.71 480.46 L262.81 480.33 L262.90 480.20 L262.99 480.08 L263.00 480.06 L263.09 479.92 L263.19 479.78 L263.28 479.62 L263.38 479.46 L263.47 479.29 L263.57 479.12 L263.66 478.94 L263.76 478.76 L263.85 478.57 L263.95 478.38 L264.04 478.18 L264.14 477.97 L264.23 477.77 L264.33 477.55 L264.40 477.40 L264.42 477.34 L264.52 477.12 L264.61 476.89 L264.71 476.66 L264.80 476.42 L264.90 476.18 L264.99 475.93 L265.09 475.68 L265.18 475.42 L265.28 475.16 L265.37 474.89 L265.47 474.62 L265.56 474.34 L265.66 474.06 L265.75 473.78 L265.85 473.49 L265.94 473.19 L266.03 472.89 L266.13 472.59 L266.22 472.28 L266.32 471.97 L266.41 471.66 L266.51 471.34 L266.60 471.02 L266.70 470.69 L266.79 470.37 L266.89 470.03 L266.98 469.70 L267.08 469.36 L267.10 469.30 L267.17 469.02 L267.27 468.67 L267.36 468.31 L267.46 467.94 L267.55 467.57 L267.65 467.18 L267.74 466.79 L267.84 466.40 L267.93 465.99 L268.03 465.58 L268.12 465.17 L268.22 464.75 L268.31 464.32 L268.41 463.89 L268.50 463.46 L268.60 463.02 L268.69 462.57 L268.79 462.13 L268.88 461.68 L268.98 461.22 L269.07 460.77 L269.17 460.31 L269.26 459.85 L269.30 459.68 L269.36 459.39 L269.45 458.93 L269.55 458.46 L269.64 457.98 L269.74 457.50 L269.83 457.02 L269.93 456.52 L270.02 456.03 L270.12 455.52 L270.21 455.01 L270.31 454.49 L270.40 453.96 L270.50 453.43 L270.59 452.88 L270.69 452.33 L270.78 451.77 L270.88 451.20 L270.90 451.04 L270.97 450.61 L271.06 449.97 L271.16 449.30 L271.25 448.59 L271.35 447.85 L271.44 447.08 L271.54 446.30 L271.63 445.51 L271.73 444.71 L271.82 443.91 L271.92 443.11 L272.01 442.32 L272.11 441.55 L272.20 440.80 L272.30 440.07 L272.39 439.38 L272.49 438.73 L272.58 438.12 L272.68 437.55 L272.77 437.05 L272.87 436.60 L272.96 436.22 L273.00 436.10 L273.06 435.90 L273.15 435.60 L273.25 435.30 L273.34 435.02 L273.44 434.75 L273.53 434.49 L273.63 434.25 L273.72 434.01 L273.82 433.78 L273.91 433.56 L274.01 433.35 L274.10 433.15 L274.20 432.96 L274.29 432.77 L274.39 432.59 L274.48 432.42 L274.58 432.25 L274.67 432.09 L274.77 431.94 L274.86 431.79 L274.96 431.64 L275.05 431.50 L275.15 431.36 L275.20 431.29 L275.24 431.23 L275.34 431.10 L275.43 430.97 L275.53 430.84 L275.62 430.72 L275.72 430.60 L275.81 430.48 L275.90 430.36 L276.00 430.25 L276.09 430.14 L276.19 430.03 L276.28 429.93 L276.38 429.83 L276.47 429.74 L276.57 429.65 L276.66 429.56 L276.76 429.48 L276.85 429.40 L276.95 429.33 L277.04 429.26 L277.14 429.19 L277.23 429.14 L277.30 429.10 L277.33 429.08 L277.42 429.03 L277.52 428.98 L277.61 428.93 L277.71 428.88 L277.80 428.83 L277.90 428.78 L277.99 428.73 L278.09 428.68 L278.18 428.64 L278.28 428.59 L278.37 428.55 L278.47 428.50 L278.56 428.46 L278.66 428.42 L278.75 428.39 L278.85 428.35 L278.94 428.32 L279.04 428.29 L279.13 428.26 L279.23 428.23 L279.32 428.21 L279.42 428.19 L279.51 428.17 L279.61 428.16 L279.70 428.14 L279.80 428.14 L279.89 428.13 L279.99 428.13" fill="none" stroke="#000000" stroke-width="1.3" stroke-linejoin="round" stroke-linecap="butt"/>
<path d="M261.10 485.40 L268.70 478.40 L269.22 476.85 L269.41 475.69 L269.61 474.46 L269.80 473.18 L270.00 471.83 L270.19 470.43 L270.38 468.98 L270.58 467.49 L270.77 465.95 L270.97 464.38 L271.16 462.77 L271.35 461.13 L271.40 460.72 L271.55 459.38 L271.74 457.39 L271.94 455.29 L272.13 453.24 L272.32 451.39 L272.50 450.00 L272.52 449.87 L272.71 448.56 L272.91 447.32 L273.10 446.14 L273.29 445.02 L273.49 443.95 L273.68 442.93 L273.87 441.97 L274.07 441.04 L274.26 440.17 L274.46 439.33 L274.65 438.52 L274.84 437.76 L275.04 437.02 L275.23 436.31 L275.26 436.19 L275.43 435.62 L275.62 434.92 L275.81 434.24 L276.01 433.56 L276.20 432.91 L276.40 432.28 L276.59 431.68 L276.78 431.12 L276.98 430.61 L277.17 430.15 L277.37 429.75 L277.56 429.42 L277.75 429.15 L277.80 429.10 L277.95 428.95 L278.14 428.76 L278.33 428.59 L278.53 428.43 L278.72 428.29 L278.92 428.17 L279.11 428.07 L279.30 427.99 L279.50 427.94 L279.51 427.93 L279.69 427.90 L279.89 427.87 L280.08 427.84 L280.27 427.81 L280.47 427.78 L280.66 427.76 L280.86 427.74 L281.05 427.73 L281.24 427.72 L281.44 427.71 L281.60 427.71 L281.63 427.71 L281.83 427.71 L282.02 427.71 L282.21 427.71 L282.41 427.72 L282.60 427.72 L282.79 427.73 L282.99 427.73 L283.18 427.74 L283.38 427.74 L283.57 427.75 L283.76 427.76 L283.96 427.77 L284.15 427.78 L284.35 427.79 L284.54 427.80 L284.73 427.81 L284.93 427.82 L285.12 427.83 L285.32 427.85 L285.51 427.86 L285.70 427.87 L285.90 427.88 L286.09 427.90 L286.28 427.91 L286.48 427.92 L286.67 427.94 L286.87 427.95 L287.06 427.97 L287.25 427.98 L287.45 427.99 L287.64 428.01 L287.84 428.02 L288.03 428.04 L288.22 428.05 L288.42 428.06 L288.61 428.08 L288.81 428.09 L289.00 428.10 L289.19 428.11 L289.39 428.13 L289.43 428.13 L289.58 428.14 L289.78 428.15 L289.97 428.16 L290.16 428.17 L290.36 428.19 L290.55 428.20 L290.74 428.21 L290.94 428.23 L291.13 428.24 L291.33 428.25 L291.52 428.27 L291.71 428.28 L291.91 428.29 L292.10 428.31 L292.30 428.32 L292.49 428.34 L292.68 428.35 L292.88 428.36 L293.07 428.38 L293.27 428.39 L293.46 428.41 L293.65 428.42 L293.85 428.44 L294.04 428.45 L294.24 428.47 L294.43 428.48 L294.62 428.50 L294.82 428.51 L295.01 428.53 L295.20 428.54 L295.40 428.56 L295.59 428.58 L295.79 428.59 L295.98 428.61 L296.17 428.62 L296.37 428.64 L296.56 428.65 L296.76 428.67 L296.95 428.69 L297.14 428.70 L297.34 428.72 L297.53 428.73 L297.73 428.75 L297.92 428.77 L298.11 428.78 L298.31 428.80 L298.50 428.81 L298.70 428.83 L298.89 428.85 L299.08 428.86 L299.28 428.88 L299.47 428.89 L299.66 428.91 L299.86 428.93 L300.05 428.94 L300.25 428.96 L300.44 428.97 L300.63 428.99 L300.83 429.01 L301.02 429.02 L301.22 429.04 L301.41 429.05 L301.60 429.07 L301.80 429.08 L301.99 429.10 L302.19 429.11 L302.38 429.13 L302.57 429.14 L302.77 429.16 L302.96 429.17 L303.16 429.19 L303.35 429.20 L303.54 429.22 L303.74 429.23 L303.93 429.25 L304.12 429.26 L304.32 429.28 L304.51 429.29 L304.71 429.30 L304.90 429.32 L305.09 429.33 L305.29 429.34 L305.48 429.36 L305.68 429.37 L305.87 429.38 L306.06 429.40 L306.26 429.41 L306.45 429.42 L306.65 429.43 L306.84 429.45 L307.03 429.46 L307.23 429.47 L307.42 429.48 L307.62 429.49 L307.81 429.50 L308.00 429.52 L308.00 429.52 L308.20 429.53 L308.39 429.54 L308.58 429.55 L308.78 429.56 L308.97 429.57 L309.17 429.58 L309.36 429.59 L309.55 429.60 L309.75 429.61 L309.94 429.62 L310.14 429.63 L310.33 429.64 L310.52 429.66 L310.72 429.67 L310.91 429.68 L311.11 429.69 L311.30 429.70 L311.49 429.71 L311.69 429.72 L311.88 429.73 L312.08 429.74 L312.27 429.75 L312.46 429.76 L312.66 429.77 L312.85 429.78 L313.04 429.79 L313.24 429.80 L313.43 429.81 L313.63 429.82 L313.82 429.83 L314.01 429.84 L314.21 429.85 L314.40 429.86 L314.60 429.87 L314.79 429.88 L314.98 429.89 L315.18 429.90 L315.37 429.91 L315.57 429.92 L315.76 429.93 L315.95 429.94 L316.15 429.94 L316.34 429.95 L316.53 429.96 L316.73 429.97 L316.92 429.98 L317.12 429.99 L317.31 430.00 L317.50 430.01 L317.70 430.02 L317.89 430.03 L318.09 430.04 L318.28 430.04 L318.47 430.05 L318.67 430.06 L318.86 430.07 L319.06 430.08 L319.25 430.09 L319.44 430.10 L319.64 430.11 L319.83 430.11 L320.03 430.12 L320.22 430.13 L320.41 430.14 L320.61 430.15 L320.80 430.15 L320.99 430.16 L321.19 430.17 L321.38 430.18 L321.58 430.19 L321.77 430.19 L321.96 430.20 L322.16 430.21 L322.35 430.22 L322.55 430.22 L322.74 430.23 L322.93 430.24 L323.13 430.25 L323.32 430.25 L323.52 430.26 L323.71 430.27 L323.90 430.28 L324.10 430.28 L324.29 430.29 L324.49 430.30 L324.68 430.30 L324.87 430.31 L325.07 430.32 L325.26 430.32 L325.45 430.33 L325.65 430.34 L325.84 430.34 L326.04 430.35 L326.23 430.36 L326.42 430.36 L326.62 430.37 L326.81 430.37 L327.01 430.38 L327.20 430.39" fill="none" stroke="#0000ff" stroke-width="1.8" stroke-linejoin="round" stroke-linecap="butt"/>
<path d="M261.10 482.69 L269.80 477.40 L274.10 450.00 L277.30 426.51 L278.57 422.48 L279.50 421.61 L279.50 421.61 L280.11 421.78 L280.71 421.95 L281.31 422.11 L281.91 422.28 L282.51 422.44 L283.11 422.61 L283.72 422.77 L284.32 422.93 L284.92 423.09 L285.52 423.25 L286.12 423.40 L286.72 423.56 L287.33 423.71 L287.93 423.87 L288.53 424.02 L289.13 424.17 L289.73 424.32 L290.33 424.47 L290.94 424.61 L291.54 424.76 L292.14 424.91 L292.74 425.05 L293.34 425.19 L293.94 425.34 L294.55 425.48 L295.15 425.62 L295.75 425.76 L296.35 425.89 L296.95 426.03 L297.55 426.17 L298.16 426.30 L298.76 426.43 L299.36 426.57 L299.96 426.70 L300.00 426.71 L300.56 426.83 L301.16 426.96 L301.77 427.10 L302.37 427.23 L302.97 427.36 L303.57 427.50 L304.17 427.63 L304.77 427.76 L305.38 427.88 L305.98 428.01 L306.58 428.13 L307.18 428.24 L307.78 428.35 L308.38 428.46 L308.99 428.56 L309.59 428.66 L310.19 428.75 L310.60 428.81 L310.79 428.83 L311.39 428.91 L311.99 428.99 L312.60 429.07 L313.20 429.14 L313.80 429.22 L314.40 429.29 L315.00 429.36 L315.60 429.43 L316.21 429.49 L316.81 429.55 L317.41 429.61 L318.01 429.67 L318.61 429.72 L319.21 429.77 L319.82 429.81 L320.42 429.85 L321.02 429.89 L321.30 429.90 L321.62 429.92 L322.22 429.95 L322.82 429.98 L323.43 430.00 L324.03 430.03 L324.63 430.05 L325.23 430.07 L325.83 430.09 L326.43 430.11 L327.04 430.13 L327.64 430.15 L328.24 430.17 L328.84 430.19 L329.44 430.21 L330.04 430.22 L330.65 430.24 L331.25 430.27 L331.85 430.29 L331.92 430.29 L332.45 430.31 L333.05 430.33 L333.65 430.35 L334.26 430.37 L334.86 430.39 L335.46 430.41 L336.06 430.42 L336.66 430.44 L337.26 430.46 L337.86 430.48 L338.47 430.50 L339.07 430.53 L339.67 430.55 L340.27 430.58 L340.87 430.61 L341.47 430.64 L342.08 430.68 L342.60 430.71 L342.68 430.71 L343.28 430.77 L343.88 430.84 L344.48 430.93 L345.08 431.03 L345.69 431.14 L346.29 431.27 L346.89 431.41 L347.49 431.55 L348.09 431.70 L348.69 431.85 L349.30 432.00 L349.90 432.16 L350.50 432.31 L351.10 432.45 L351.70 432.59 L352.30 432.73 L352.91 432.85 L353.20 432.90 L353.51 432.96 L354.11 433.07 L354.71 433.18 L355.31 433.29 L355.91 433.40 L356.52 433.50 L357.12 433.61 L357.72 433.71 L358.32 433.80 L358.92 433.90 L359.52 433.99 L360.13 434.08 L360.25 434.10 L360.73 434.17 L361.33 434.26 L361.93 434.36 L362.53 434.46 L363.13 434.56 L363.74 434.64 L364.34 434.71 L364.94 434.77 L365.54 434.80 L366.00 434.81 L366.14 434.81 L366.74 434.80 L367.35 434.78 L367.95 434.76 L368.55 434.73 L369.15 434.69 L369.75 434.65 L370.35 434.61 L370.96 434.57 L371.56 434.53 L372.16 434.49 L372.76 434.46 L373.36 434.43 L373.96 434.40 L374.50 434.39 L374.57 434.39 L375.17 434.37 L375.77 434.36 L376.37 434.35 L376.97 434.34 L377.57 434.33 L378.18 434.32 L378.78 434.31 L379.38 434.29 L379.98 434.28 L380.58 434.27 L381.18 434.26 L381.79 434.26 L382.39 434.25 L382.99 434.24 L383.59 434.23 L384.19 434.22 L384.79 434.21 L385.40 434.20 L386.00 434.20 L386.60 434.19 L387.20 434.18 L387.80 434.17 L388.40 434.17 L389.01 434.16 L389.61 434.16 L390.21 434.15 L390.81 434.14 L391.41 434.14 L392.01 434.13 L392.62 434.13 L393.22 434.13 L393.82 434.12 L394.42 434.12 L395.02 434.11 L395.62 434.11 L396.23 434.11 L396.83 434.11 L397.43 434.10 L398.03 434.10 L398.63 434.10 L399.23 434.10 L399.84 434.10 L400.00 434.10 L400.44 434.10 L401.04 434.10 L401.64 434.10 L402.24 434.09 L402.84 434.09 L403.45 434.09 L404.05 434.09 L404.65 434.09 L405.25 434.09 L405.85 434.09 L406.45 434.09 L407.06 434.09 L407.66 434.09 L408.26 434.09 L408.86 434.09 L409.46 434.09 L410.06 434.09 L410.67 434.09 L411.27 434.09 L411.87 434.09 L412.47 434.08 L413.07 434.08 L413.67 434.08 L414.28 434.08 L414.88 434.08 L415.48 434.08 L416.08 434.08 L416.68 434.08 L417.28 434.08 L417.89 434.08 L418.49 434.08 L419.09 434.08 L419.69 434.08 L420.29 434.08 L420.89 434.08 L421.50 434.08 L422.10 434.08 L422.70 434.08 L423.30 434.08 L423.90 434.08 L424.50 434.08 L425.11 434.08 L425.71 434.07 L426.31 434.07 L426.91 434.07 L427.51 434.07 L428.11 434.07 L428.72 434.07 L429.32 434.07 L429.92 434.07 L430.52 434.07 L431.12 434.07 L431.72 434.07 L432.33 434.07 L432.93 434.07 L433.53 434.07 L434.13 434.07 L434.73 434.07 L435.33 434.07 L435.94 434.07 L436.54 434.07 L437.14 434.07 L437.74 434.07 L438.34 434.07 L438.94 434.07 L439.55 434.07 L440.15 434.07 L440.75 434.07 L441.35 434.07 L441.95 434.07 L442.55 434.07 L443.16 434.07 L443.76 434.07 L444.36 434.07 L444.96 434.07 L445.56 434.07 L446.16 434.07 L446.77 434.07 L447.37 434.07 L447.97 434.07 L448.57 434.07 L449.17 434.07 L449.77 434.07 L450.38 434.07 L450.98 434.07 L451.58 434.07 L452.18 434.07 L452.78 434.07 L453.38 434.07 L453.99 434.07 L454.59 434.07 L455.19 434.07 L455.79 434.07 L456.39 434.07 L456.99 434.07 L457.60 434.07 L458.20 434.07 L458.80 434.07 L459.40 434.07" fill="none" stroke="#ff0000" stroke-width="2.3" stroke-linejoin="round" stroke-linecap="butt"/>
</g>
<text x="234.75" y="544.5" text-anchor="middle" font-size="10.9" style="fill:#000;stroke:#000;stroke-width:0.3px">(B)</text>
</svg></body></html>
